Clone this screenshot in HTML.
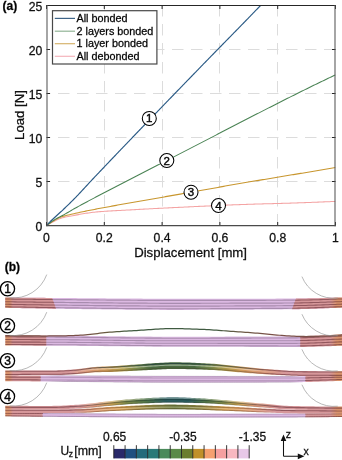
<!DOCTYPE html>
<html><head><meta charset="utf-8"><style>
html,body{margin:0;padding:0;background:#fff;overflow:hidden;width:342px;height:460px;}
svg{display:block;font-family:"Liberation Sans",sans-serif;will-change:transform;}
text{stroke:#111;stroke-width:0.28px;}
</style></head><body>
<svg width="342" height="460" viewBox="0 0 342 460">
<defs><clipPath id="plotclip"><rect x="46.5" y="5.5" width="289" height="220"/></clipPath></defs>
<text x="2.5" y="9.8" font-size="12" font-weight="bold" fill="#000">(a)</text>
<g stroke="#dcdcdc" stroke-width="1" stroke-dasharray="11.5 7.5"><line x1="104.50" y1="225.5" x2="104.50" y2="5.5"/><line x1="162.50" y1="225.5" x2="162.50" y2="5.5"/><line x1="219.50" y1="225.5" x2="219.50" y2="5.5"/><line x1="277.50" y1="225.5" x2="277.50" y2="5.5"/><line x1="335.5" y1="181.50" x2="46.5" y2="181.50"/><line x1="335.5" y1="137.50" x2="46.5" y2="137.50"/><line x1="335.5" y1="93.50" x2="46.5" y2="93.50"/><line x1="335.5" y1="49.50" x2="46.5" y2="49.50"/></g>
<g clip-path="url(#plotclip)" fill="none" stroke-width="1.05">
<polyline stroke="#f4a3a3" points="46.50,225.50 47.95,224.63 49.40,223.80 50.86,222.98 52.31,222.18 53.76,221.42 55.21,220.70 56.67,219.97 58.12,219.27 59.57,218.66 61.02,218.17 62.47,217.76 63.93,217.39 65.38,217.05 66.83,216.74 68.28,216.45 69.74,216.17 71.19,215.91 72.64,215.65 74.09,215.40 75.55,215.14 77.00,214.88 78.45,214.61 79.90,214.35 81.35,214.09 82.81,213.84 84.26,213.59 85.71,213.35 87.16,213.12 88.62,212.90 90.07,212.69 91.52,212.50 92.97,212.32 94.42,212.16 95.88,212.01 97.33,211.88 98.78,211.76 100.23,211.64 101.69,211.53 103.14,211.42 104.59,211.32 106.04,211.22 107.49,211.13 108.95,211.04 110.40,210.95 111.85,210.86 113.30,210.78 114.76,210.70 116.21,210.63 117.66,210.55 119.11,210.47 120.57,210.40 122.02,210.32 123.47,210.25 124.92,210.17 126.37,210.10 127.83,210.02 129.28,209.94 130.73,209.86 132.18,209.78 133.64,209.70 135.09,209.62 136.54,209.54 137.99,209.46 139.44,209.38 140.90,209.30 142.35,209.22 143.80,209.14 145.25,209.07 146.71,208.99 148.16,208.91 149.61,208.83 151.06,208.76 152.52,208.68 153.97,208.60 155.42,208.53 156.87,208.45 158.32,208.38 159.78,208.30 161.23,208.23 162.68,208.16 164.13,208.08 165.59,208.01 167.04,207.93 168.49,207.86 169.94,207.79 171.39,207.72 172.85,207.64 174.30,207.57 175.75,207.50 177.20,207.43 178.66,207.36 180.11,207.29 181.56,207.22 183.01,207.15 184.46,207.08 185.92,207.01 187.37,206.94 188.82,206.87 190.27,206.80 191.73,206.73 193.18,206.66 194.63,206.59 196.08,206.52 197.54,206.46 198.99,206.39 200.44,206.32 201.89,206.25 203.34,206.19 204.80,206.12 206.25,206.05 207.70,205.99 209.15,205.92 210.61,205.86 212.06,205.79 213.51,205.72 214.96,205.66 216.41,205.59 217.87,205.53 219.32,205.46 220.77,205.40 222.22,205.33 223.68,205.27 225.13,205.21 226.58,205.14 228.03,205.08 229.48,205.02 230.94,204.96 232.39,204.89 233.84,204.84 235.29,204.78 236.75,204.72 238.20,204.67 239.65,204.61 241.10,204.56 242.56,204.51 244.01,204.46 245.46,204.41 246.91,204.36 248.36,204.32 249.82,204.27 251.27,204.23 252.72,204.18 254.17,204.14 255.63,204.09 257.08,204.05 258.53,204.01 259.98,203.97 261.43,203.93 262.89,203.89 264.34,203.85 265.79,203.81 267.24,203.77 268.70,203.73 270.15,203.69 271.60,203.65 273.05,203.61 274.51,203.57 275.96,203.53 277.41,203.49 278.86,203.45 280.31,203.40 281.77,203.36 283.22,203.32 284.67,203.28 286.12,203.24 287.58,203.20 289.03,203.15 290.48,203.11 291.93,203.06 293.38,203.02 294.84,202.97 296.29,202.92 297.74,202.88 299.19,202.83 300.65,202.78 302.10,202.73 303.55,202.68 305.00,202.62 306.45,202.57 307.91,202.52 309.36,202.46 310.81,202.41 312.26,202.35 313.72,202.30 315.17,202.24 316.62,202.18 318.07,202.12 319.53,202.07 320.98,202.01 322.43,201.95 323.88,201.89 325.33,201.83 326.79,201.77 328.24,201.71 329.69,201.65 331.14,201.59 332.60,201.52 334.05,201.46 335.50,201.40"/>
<polyline stroke="#c8962e" points="46.50,225.50 47.95,224.53 49.40,223.57 50.86,222.59 52.31,221.64 53.76,220.72 55.21,219.88 56.67,219.07 58.12,218.30 59.57,217.61 61.02,217.05 62.47,216.57 63.93,216.12 65.38,215.71 66.83,215.33 68.28,214.98 69.74,214.64 71.19,214.31 72.64,213.98 74.09,213.65 75.55,213.32 77.00,212.99 78.45,212.66 79.90,212.35 81.35,212.04 82.81,211.73 84.26,211.43 85.71,211.13 87.16,210.84 88.62,210.55 90.07,210.26 91.52,209.97 92.97,209.69 94.42,209.41 95.88,209.12 97.33,208.84 98.78,208.56 100.23,208.29 101.69,208.01 103.14,207.74 104.59,207.47 106.04,207.20 107.49,206.93 108.95,206.67 110.40,206.40 111.85,206.14 113.30,205.88 114.76,205.62 116.21,205.36 117.66,205.10 119.11,204.84 120.57,204.58 122.02,204.32 123.47,204.06 124.92,203.81 126.37,203.55 127.83,203.29 129.28,203.03 130.73,202.77 132.18,202.51 133.64,202.25 135.09,201.99 136.54,201.73 137.99,201.48 139.44,201.22 140.90,200.96 142.35,200.71 143.80,200.45 145.25,200.20 146.71,199.94 148.16,199.69 149.61,199.43 151.06,199.18 152.52,198.92 153.97,198.67 155.42,198.42 156.87,198.16 158.32,197.91 159.78,197.66 161.23,197.40 162.68,197.15 164.13,196.90 165.59,196.64 167.04,196.39 168.49,196.14 169.94,195.89 171.39,195.63 172.85,195.38 174.30,195.13 175.75,194.87 177.20,194.62 178.66,194.37 180.11,194.11 181.56,193.86 183.01,193.60 184.46,193.35 185.92,193.09 187.37,192.84 188.82,192.58 190.27,192.33 191.73,192.07 193.18,191.81 194.63,191.56 196.08,191.30 197.54,191.04 198.99,190.78 200.44,190.52 201.89,190.26 203.34,190.00 204.80,189.74 206.25,189.48 207.70,189.22 209.15,188.96 210.61,188.70 212.06,188.44 213.51,188.18 214.96,187.92 216.41,187.66 217.87,187.40 219.32,187.14 220.77,186.88 222.22,186.62 223.68,186.36 225.13,186.10 226.58,185.85 228.03,185.59 229.48,185.33 230.94,185.08 232.39,184.82 233.84,184.57 235.29,184.32 236.75,184.06 238.20,183.81 239.65,183.56 241.10,183.31 242.56,183.06 244.01,182.81 245.46,182.57 246.91,182.32 248.36,182.07 249.82,181.83 251.27,181.58 252.72,181.34 254.17,181.10 255.63,180.85 257.08,180.61 258.53,180.37 259.98,180.13 261.43,179.89 262.89,179.64 264.34,179.40 265.79,179.16 267.24,178.92 268.70,178.68 270.15,178.44 271.60,178.20 273.05,177.97 274.51,177.73 275.96,177.49 277.41,177.25 278.86,177.01 280.31,176.77 281.77,176.53 283.22,176.29 284.67,176.05 286.12,175.81 287.58,175.57 289.03,175.33 290.48,175.09 291.93,174.85 293.38,174.61 294.84,174.36 296.29,174.12 297.74,173.88 299.19,173.64 300.65,173.39 302.10,173.15 303.55,172.90 305.00,172.66 306.45,172.41 307.91,172.17 309.36,171.93 310.81,171.68 312.26,171.44 313.72,171.19 315.17,170.94 316.62,170.70 318.07,170.45 319.53,170.21 320.98,169.96 322.43,169.72 323.88,169.47 325.33,169.22 326.79,168.98 328.24,168.73 329.69,168.49 331.14,168.24 332.60,167.99 334.05,167.75 335.50,167.50"/>
<polyline stroke="#4a8354" stroke-width="1.05" points="46.50,225.50 47.95,224.34 49.40,223.25 50.86,222.20 52.31,221.18 53.76,220.23 55.21,219.33 56.67,218.49 58.12,217.71 59.57,216.95 61.02,216.20 62.47,215.45 63.93,214.69 65.38,213.89 66.83,213.06 68.28,212.21 69.74,211.36 71.19,210.50 72.64,209.65 74.09,208.81 75.55,208.00 77.00,207.19 78.45,206.39 79.90,205.59 81.35,204.80 82.81,204.01 84.26,203.23 85.71,202.45 87.16,201.68 88.62,200.90 90.07,200.13 91.52,199.37 92.97,198.60 94.42,197.84 95.88,197.08 97.33,196.32 98.78,195.56 100.23,194.80 101.69,194.04 103.14,193.28 104.59,192.51 106.04,191.75 107.49,190.99 108.95,190.23 110.40,189.47 111.85,188.72 113.30,187.96 114.76,187.21 116.21,186.45 117.66,185.70 119.11,184.95 120.57,184.20 122.02,183.45 123.47,182.70 124.92,181.95 126.37,181.20 127.83,180.45 129.28,179.71 130.73,178.96 132.18,178.22 133.64,177.47 135.09,176.73 136.54,175.98 137.99,175.24 139.44,174.50 140.90,173.75 142.35,173.01 143.80,172.27 145.25,171.52 146.71,170.78 148.16,170.04 149.61,169.30 151.06,168.56 152.52,167.81 153.97,167.07 155.42,166.33 156.87,165.59 158.32,164.84 159.78,164.10 161.23,163.36 162.68,162.61 164.13,161.87 165.59,161.12 167.04,160.38 168.49,159.63 169.94,158.89 171.39,158.14 172.85,157.39 174.30,156.64 175.75,155.90 177.20,155.15 178.66,154.40 180.11,153.65 181.56,152.90 183.01,152.15 184.46,151.40 185.92,150.65 187.37,149.90 188.82,149.15 190.27,148.40 191.73,147.65 193.18,146.89 194.63,146.14 196.08,145.39 197.54,144.64 198.99,143.89 200.44,143.13 201.89,142.38 203.34,141.63 204.80,140.87 206.25,140.12 207.70,139.37 209.15,138.61 210.61,137.86 212.06,137.11 213.51,136.35 214.96,135.60 216.41,134.85 217.87,134.09 219.32,133.34 220.77,132.59 222.22,131.84 223.68,131.08 225.13,130.33 226.58,129.58 228.03,128.83 229.48,128.07 230.94,127.32 232.39,126.57 233.84,125.82 235.29,125.07 236.75,124.32 238.20,123.57 239.65,122.82 241.10,122.07 242.56,121.32 244.01,120.57 245.46,119.82 246.91,119.07 248.36,118.32 249.82,117.57 251.27,116.83 252.72,116.08 254.17,115.33 255.63,114.59 257.08,113.84 258.53,113.10 259.98,112.35 261.43,111.61 262.89,110.86 264.34,110.12 265.79,109.38 267.24,108.64 268.70,107.90 270.15,107.16 271.60,106.42 273.05,105.68 274.51,104.94 275.96,104.20 277.41,103.46 278.86,102.73 280.31,101.99 281.77,101.26 283.22,100.53 284.67,99.79 286.12,99.06 287.58,98.33 289.03,97.60 290.48,96.87 291.93,96.14 293.38,95.41 294.84,94.69 296.29,93.96 297.74,93.24 299.19,92.51 300.65,91.79 302.10,91.07 303.55,90.35 305.00,89.63 306.45,88.91 307.91,88.19 309.36,87.47 310.81,86.76 312.26,86.04 313.72,85.33 315.17,84.62 316.62,83.91 318.07,83.20 319.53,82.50 320.98,81.80 322.43,81.11 323.88,80.41 325.33,79.72 326.79,79.03 328.24,78.34 329.69,77.65 331.14,76.96 332.60,76.28 334.05,75.59 335.50,74.90"/>
<polyline stroke="#2a5a85" stroke-width="1.15" points="46.50,225.50 47.58,224.30 48.67,223.19 49.75,222.10 50.83,221.03 51.91,219.99 53.00,218.97 54.08,217.96 55.16,216.97 56.25,215.98 57.33,215.00 58.41,214.02 59.49,213.04 60.58,212.05 61.66,211.06 62.74,210.06 63.83,209.04 64.91,208.00 65.99,206.96 67.08,205.92 68.16,204.87 69.24,203.82 70.32,202.76 71.41,201.70 72.49,200.61 73.57,199.52 74.66,198.41 75.74,197.30 76.82,196.17 77.90,195.03 78.99,193.89 80.07,192.74 81.15,191.58 82.24,190.42 83.32,189.25 84.40,188.09 85.48,186.91 86.57,185.74 87.65,184.57 88.73,183.40 89.82,182.23 90.90,181.07 91.98,179.91 93.07,178.75 94.15,177.60 95.23,176.46 96.31,175.32 97.40,174.17 98.48,173.03 99.56,171.89 100.65,170.76 101.73,169.62 102.81,168.48 103.89,167.34 104.98,166.20 106.06,165.07 107.14,163.93 108.23,162.79 109.31,161.66 110.39,160.52 111.47,159.39 112.56,158.25 113.64,157.12 114.72,155.99 115.81,154.85 116.89,153.72 117.97,152.59 119.06,151.45 120.14,150.32 121.22,149.19 122.30,148.06 123.39,146.93 124.47,145.80 125.55,144.67 126.64,143.54 127.72,142.41 128.80,141.28 129.88,140.15 130.97,139.03 132.05,137.90 133.13,136.77 134.22,135.64 135.30,134.52 136.38,133.39 137.46,132.26 138.55,131.14 139.63,130.01 140.71,128.89 141.80,127.76 142.88,126.64 143.96,125.51 145.05,124.39 146.13,123.27 147.21,122.14 148.29,121.02 149.38,119.90 150.46,118.77 151.54,117.65 152.63,116.53 153.71,115.41 154.79,114.28 155.87,113.16 156.96,112.04 158.04,110.92 159.12,109.80 160.21,108.68 161.29,107.56 162.37,106.44 163.45,105.32 164.54,104.20 165.62,103.08 166.70,101.96 167.79,100.84 168.87,99.72 169.95,98.60 171.04,97.48 172.12,96.36 173.20,95.24 174.28,94.12 175.37,93.01 176.45,91.89 177.53,90.77 178.62,89.65 179.70,88.53 180.78,87.42 181.86,86.30 182.95,85.18 184.03,84.07 185.11,82.95 186.20,81.83 187.28,80.71 188.36,79.60 189.44,78.48 190.53,77.36 191.61,76.25 192.69,75.13 193.78,74.01 194.86,72.90 195.94,71.78 197.03,70.67 198.11,69.55 199.19,68.43 200.27,67.32 201.36,66.20 202.44,65.09 203.52,63.97 204.61,62.86 205.69,61.75 206.77,60.64 207.85,59.53 208.94,58.42 210.02,57.31 211.10,56.20 212.19,55.09 213.27,53.98 214.35,52.87 215.43,51.76 216.52,50.66 217.60,49.55 218.68,48.44 219.77,47.34 220.85,46.23 221.93,45.13 223.02,44.02 224.10,42.91 225.18,41.81 226.26,40.70 227.35,39.60 228.43,38.49 229.51,37.39 230.60,36.28 231.68,35.17 232.76,34.07 233.84,32.96 234.93,31.85 236.01,30.75 237.09,29.64 238.18,28.53 239.26,27.42 240.34,26.32 241.42,25.21 242.51,24.10 243.59,22.99 244.67,21.87 245.76,20.76 246.84,19.65 247.92,18.54 249.01,17.42 250.09,16.31 251.17,15.19 252.25,14.08 253.34,12.96 254.42,11.84 255.50,10.72 256.59,9.60 257.67,8.48 258.75,7.36 259.83,6.24 260.92,5.12 262.00,4.00"/>
</g>
<circle cx="149.3" cy="118.4" r="7" fill="#fff" stroke="#000" stroke-width="1.05"/><text x="149.3" y="122.4" text-anchor="middle" font-size="11.5" style="stroke-width:0.45px">1</text><circle cx="166.8" cy="160.5" r="7" fill="#fff" stroke="#000" stroke-width="1.05"/><text x="166.8" y="164.5" text-anchor="middle" font-size="11.5" style="stroke-width:0.45px">2</text><circle cx="191" cy="192.2" r="7" fill="#fff" stroke="#000" stroke-width="1.05"/><text x="191" y="196.2" text-anchor="middle" font-size="11.5" style="stroke-width:0.45px">3</text><circle cx="218.5" cy="205.5" r="7" fill="#fff" stroke="#000" stroke-width="1.05"/><text x="218.5" y="209.5" text-anchor="middle" font-size="11.5" style="stroke-width:0.45px">4</text>
<g stroke="#262626" stroke-width="1"><line x1="46.50" y1="225.5" x2="46.50" y2="222"/><line x1="46.50" y1="5.5" x2="46.50" y2="9"/><line x1="46.5" y1="225.50" x2="50" y2="225.50"/><line x1="335.5" y1="225.50" x2="332" y2="225.50"/><line x1="104.30" y1="225.5" x2="104.30" y2="222"/><line x1="104.30" y1="5.5" x2="104.30" y2="9"/><line x1="46.5" y1="181.50" x2="50" y2="181.50"/><line x1="335.5" y1="181.50" x2="332" y2="181.50"/><line x1="162.10" y1="225.5" x2="162.10" y2="222"/><line x1="162.10" y1="5.5" x2="162.10" y2="9"/><line x1="46.5" y1="137.50" x2="50" y2="137.50"/><line x1="335.5" y1="137.50" x2="332" y2="137.50"/><line x1="219.90" y1="225.5" x2="219.90" y2="222"/><line x1="219.90" y1="5.5" x2="219.90" y2="9"/><line x1="46.5" y1="93.50" x2="50" y2="93.50"/><line x1="335.5" y1="93.50" x2="332" y2="93.50"/><line x1="277.70" y1="225.5" x2="277.70" y2="222"/><line x1="277.70" y1="5.5" x2="277.70" y2="9"/><line x1="46.5" y1="49.50" x2="50" y2="49.50"/><line x1="335.5" y1="49.50" x2="332" y2="49.50"/><line x1="335.50" y1="225.5" x2="335.50" y2="222"/><line x1="335.50" y1="5.5" x2="335.50" y2="9"/><line x1="46.5" y1="5.50" x2="50" y2="5.50"/><line x1="335.5" y1="5.50" x2="332" y2="5.50"/></g>
<g stroke="#262626"><line x1="46" y1="5.5" x2="336" y2="5.5" stroke-width="1.1"/><line x1="46" y1="225.7" x2="336" y2="225.7" stroke-width="1.3" stroke="#4a4a4a"/><line x1="47" y1="5" x2="47" y2="226.3" stroke-width="1.05" stroke="#555"/><line x1="335" y1="5" x2="335" y2="226.3" stroke-width="1.05" stroke="#555"/></g>
<rect x="52.5" y="10.7" width="104.4" height="53.3" fill="#fff" stroke="#484848" stroke-width="1.2"/>
<g stroke-width="1.2">
<line x1="54.8" y1="18.4" x2="75" y2="18.4" stroke="#3e6488"/>
<line x1="54.8" y1="31.2" x2="75" y2="31.2" stroke="#92b496"/>
<line x1="54.8" y1="43.7" x2="75" y2="43.7" stroke="#d6b46e"/>
<line x1="54.8" y1="56.3" x2="75" y2="56.3" stroke="#f4b4bc"/>
</g>
<g font-size="10.8" fill="#000">
<text x="76.5" y="22">All bonded</text>
<text x="76.5" y="34.6">2 layers bonded</text>
<text x="76.5" y="47.1">1 layer bonded</text>
<text x="76.5" y="59.7">All debonded</text>
</g>
<g font-size="12.2" fill="#111"><text x="42.3" y="230.80" text-anchor="end">0</text><text x="42.3" y="186.80" text-anchor="end">5</text><text x="42.3" y="142.80" text-anchor="end">10</text><text x="42.3" y="98.80" text-anchor="end">15</text><text x="42.3" y="54.80" text-anchor="end">20</text><text x="42.3" y="10.80" text-anchor="end">25</text><text x="46.50" y="241.8" text-anchor="middle">0</text><text x="104.30" y="241.8" text-anchor="middle">0.2</text><text x="162.10" y="241.8" text-anchor="middle">0.4</text><text x="219.90" y="241.8" text-anchor="middle">0.6</text><text x="277.70" y="241.8" text-anchor="middle">0.8</text><text x="335.50" y="241.8" text-anchor="middle">1</text></g>
<text x="190.6" y="257" font-size="13.2" text-anchor="middle" fill="#111">Displacement [mm]</text>
<text transform="translate(24.2,115) rotate(-90)" font-size="13.2" text-anchor="middle" fill="#111">Load [N]</text>
<text x="4.8" y="271.2" font-size="12" font-weight="bold" fill="#000">(b)</text>
<defs><linearGradient id="g1" gradientUnits="userSpaceOnUse" x1="0" y1="0" x2="342" y2="0"><stop offset="0.0000" stop-color="#d9936c"/><stop offset="0.0263" stop-color="#d9936c"/><stop offset="0.0380" stop-color="#d6979a"/><stop offset="0.9649" stop-color="#d6979a"/><stop offset="0.9854" stop-color="#d9936c"/><stop offset="1.0000" stop-color="#d9936c"/></linearGradient><linearGradient id="g2" gradientUnits="userSpaceOnUse" x1="0" y1="0" x2="342" y2="0"><stop offset="0.0000" stop-color="#d9936c"/><stop offset="0.0263" stop-color="#d9936c"/><stop offset="0.0380" stop-color="#d6979a"/><stop offset="0.1330" stop-color="#d6979a"/><stop offset="0.1374" stop-color="#dcb9e2"/><stop offset="0.8757" stop-color="#dcb9e2"/><stop offset="0.8801" stop-color="#d6979a"/><stop offset="0.9649" stop-color="#d6979a"/><stop offset="0.9854" stop-color="#d9936c"/><stop offset="1.0000" stop-color="#d9936c"/></linearGradient><linearGradient id="g3" gradientUnits="userSpaceOnUse" x1="0" y1="0" x2="342" y2="0"><stop offset="0.0000" stop-color="rgba(80,25,35,0.5)"/><stop offset="0.1330" stop-color="rgba(80,25,35,0.5)"/><stop offset="0.1360" stop-color="rgba(50,35,55,0.3)"/><stop offset="0.8757" stop-color="rgba(50,35,55,0.3)"/><stop offset="0.8787" stop-color="rgba(80,25,35,0.5)"/><stop offset="1.0000" stop-color="rgba(80,25,35,0.5)"/></linearGradient><linearGradient id="g4" gradientUnits="userSpaceOnUse" x1="0" y1="0" x2="342" y2="0"><stop offset="0.0000" stop-color="rgba(80,25,35,0.5)"/><stop offset="0.1330" stop-color="rgba(80,25,35,0.5)"/><stop offset="0.1360" stop-color="rgba(50,35,55,0.3)"/><stop offset="0.8757" stop-color="rgba(50,35,55,0.3)"/><stop offset="0.8787" stop-color="rgba(80,25,35,0.5)"/><stop offset="1.0000" stop-color="rgba(80,25,35,0.5)"/></linearGradient><linearGradient id="g5" gradientUnits="userSpaceOnUse" x1="0" y1="0" x2="342" y2="0"><stop offset="0.0000" stop-color="rgba(80,25,35,0.5)"/><stop offset="0.1330" stop-color="rgba(80,25,35,0.5)"/><stop offset="0.1360" stop-color="rgba(50,35,55,0.3)"/><stop offset="0.8757" stop-color="rgba(50,35,55,0.3)"/><stop offset="0.8787" stop-color="rgba(80,25,35,0.5)"/><stop offset="1.0000" stop-color="rgba(80,25,35,0.5)"/></linearGradient><linearGradient id="g6" gradientUnits="userSpaceOnUse" x1="0" y1="0" x2="342" y2="0"><stop offset="0.0000" stop-color="rgba(80,25,35,0.5)"/><stop offset="0.1330" stop-color="rgba(80,25,35,0.5)"/><stop offset="0.1360" stop-color="rgba(50,35,55,0.3)"/><stop offset="0.8757" stop-color="rgba(50,35,55,0.3)"/><stop offset="0.8787" stop-color="rgba(80,25,35,0.5)"/><stop offset="1.0000" stop-color="rgba(80,25,35,0.5)"/></linearGradient><linearGradient id="g7" gradientUnits="userSpaceOnUse" x1="0" y1="0" x2="342" y2="0"><stop offset="0.0000" stop-color="#7a5048"/><stop offset="0.2339" stop-color="#7a5048"/><stop offset="0.3070" stop-color="#6a5a40"/><stop offset="0.3801" stop-color="#3f5a40"/><stop offset="0.6287" stop-color="#3f5a40"/><stop offset="0.7018" stop-color="#6a5a45"/><stop offset="0.7895" stop-color="#7a5048"/><stop offset="1.0000" stop-color="#7a5048"/></linearGradient><linearGradient id="g8" gradientUnits="userSpaceOnUse" x1="0" y1="0" x2="342" y2="0"><stop offset="0.0000" stop-color="#d9936c"/><stop offset="0.0263" stop-color="#d9936c"/><stop offset="0.0380" stop-color="#d6979a"/><stop offset="0.1155" stop-color="#d6979a"/><stop offset="0.1213" stop-color="#dcb9e2"/><stop offset="0.8904" stop-color="#dcb9e2"/><stop offset="0.8962" stop-color="#d6979a"/><stop offset="0.9649" stop-color="#d6979a"/><stop offset="0.9854" stop-color="#d9936c"/><stop offset="1.0000" stop-color="#d9936c"/></linearGradient><linearGradient id="g9" gradientUnits="userSpaceOnUse" x1="0" y1="0" x2="342" y2="0"><stop offset="0.0000" stop-color="rgba(80,25,35,0.5)"/><stop offset="0.1184" stop-color="rgba(80,25,35,0.5)"/><stop offset="0.1213" stop-color="rgba(50,35,55,0.22)"/><stop offset="0.8904" stop-color="rgba(50,35,55,0.22)"/><stop offset="0.8933" stop-color="rgba(80,25,35,0.5)"/><stop offset="1.0000" stop-color="rgba(80,25,35,0.5)"/></linearGradient><linearGradient id="g10" gradientUnits="userSpaceOnUse" x1="0" y1="0" x2="342" y2="0"><stop offset="0.0000" stop-color="rgba(80,25,35,0.5)"/><stop offset="0.1184" stop-color="rgba(80,25,35,0.5)"/><stop offset="0.1213" stop-color="rgba(50,35,55,0.26)"/><stop offset="0.8904" stop-color="rgba(50,35,55,0.26)"/><stop offset="0.8933" stop-color="rgba(80,25,35,0.5)"/><stop offset="1.0000" stop-color="rgba(80,25,35,0.5)"/></linearGradient><linearGradient id="g11" gradientUnits="userSpaceOnUse" x1="0" y1="0" x2="342" y2="0"><stop offset="0.0000" stop-color="rgba(0,0,0,0)"/><stop offset="0.1316" stop-color="rgba(0,0,0,0)"/><stop offset="0.1754" stop-color="rgba(50,35,55,0.2)"/><stop offset="0.8480" stop-color="rgba(50,35,55,0.2)"/><stop offset="0.8772" stop-color="rgba(0,0,0,0)"/><stop offset="1.0000" stop-color="rgba(0,0,0,0)"/></linearGradient><linearGradient id="g12" gradientUnits="userSpaceOnUse" x1="0" y1="0" x2="342" y2="0"><stop offset="0.0000" stop-color="rgba(0,0,0,0)"/><stop offset="0.1316" stop-color="rgba(0,0,0,0)"/><stop offset="0.1754" stop-color="rgba(50,35,55,0.25)"/><stop offset="0.8480" stop-color="rgba(50,35,55,0.25)"/><stop offset="0.8772" stop-color="rgba(0,0,0,0)"/><stop offset="1.0000" stop-color="rgba(0,0,0,0)"/></linearGradient><linearGradient id="g13" gradientUnits="userSpaceOnUse" x1="0" y1="0" x2="342" y2="0"><stop offset="0.0000" stop-color="#d9936c"/><stop offset="0.0263" stop-color="#d9936c"/><stop offset="0.0380" stop-color="#d6979a"/><stop offset="0.2047" stop-color="#d6979a"/><stop offset="0.2573" stop-color="#dc9a78"/><stop offset="0.3070" stop-color="#d09a58"/><stop offset="0.3567" stop-color="#b09a48"/><stop offset="0.4035" stop-color="#74884a"/><stop offset="0.4444" stop-color="#4a6c40"/><stop offset="0.5702" stop-color="#4a6c40"/><stop offset="0.6140" stop-color="#74884a"/><stop offset="0.6608" stop-color="#b09a48"/><stop offset="0.7076" stop-color="#d09a58"/><stop offset="0.7661" stop-color="#dc9a78"/><stop offset="0.8333" stop-color="#d6979a"/><stop offset="0.9649" stop-color="#d6979a"/><stop offset="0.9854" stop-color="#d9936c"/><stop offset="1.0000" stop-color="#d9936c"/></linearGradient><linearGradient id="g14" gradientUnits="userSpaceOnUse" x1="0" y1="0" x2="342" y2="0"><stop offset="0.0000" stop-color="rgba(80,25,35,0.5)"/><stop offset="0.2047" stop-color="rgba(80,25,35,0.5)"/><stop offset="0.2924" stop-color="rgba(20,45,60,0.55)"/><stop offset="0.7164" stop-color="rgba(20,45,60,0.55)"/><stop offset="0.8041" stop-color="rgba(80,25,35,0.5)"/><stop offset="1.0000" stop-color="rgba(80,25,35,0.5)"/></linearGradient><linearGradient id="g15" gradientUnits="userSpaceOnUse" x1="0" y1="0" x2="342" y2="0"><stop offset="0.0000" stop-color="rgba(80,25,35,0.5)"/><stop offset="0.2047" stop-color="rgba(80,25,35,0.5)"/><stop offset="0.2924" stop-color="rgba(60,40,30,0.35)"/><stop offset="0.7164" stop-color="rgba(60,40,30,0.35)"/><stop offset="0.8041" stop-color="rgba(80,25,35,0.5)"/><stop offset="1.0000" stop-color="rgba(80,25,35,0.5)"/></linearGradient><linearGradient id="g16" gradientUnits="userSpaceOnUse" x1="0" y1="0" x2="342" y2="0"><stop offset="0.0000" stop-color="rgba(255,255,255,0)"/><stop offset="0.2047" stop-color="rgba(255,255,255,0)"/><stop offset="0.2924" stop-color="rgba(255,255,255,0.45)"/><stop offset="0.7164" stop-color="rgba(255,255,255,0.45)"/><stop offset="0.8041" stop-color="rgba(255,255,255,0)"/><stop offset="1.0000" stop-color="rgba(255,255,255,0)"/></linearGradient><linearGradient id="g17" gradientUnits="userSpaceOnUse" x1="0" y1="0" x2="342" y2="0"><stop offset="0.0000" stop-color="#d9936c"/><stop offset="0.0263" stop-color="#d9936c"/><stop offset="0.0380" stop-color="#d6979a"/><stop offset="0.1213" stop-color="#d6979a"/><stop offset="0.1272" stop-color="#dcb9e2"/><stop offset="0.8904" stop-color="#dcb9e2"/><stop offset="0.8962" stop-color="#d6979a"/><stop offset="0.9649" stop-color="#d6979a"/><stop offset="0.9854" stop-color="#d9936c"/><stop offset="1.0000" stop-color="#d9936c"/></linearGradient><linearGradient id="g18" gradientUnits="userSpaceOnUse" x1="0" y1="0" x2="342" y2="0"><stop offset="0.0000" stop-color="rgba(80,25,35,0.5)"/><stop offset="0.1243" stop-color="rgba(80,25,35,0.5)"/><stop offset="0.1272" stop-color="rgba(50,35,55,0.22)"/><stop offset="0.8904" stop-color="rgba(50,35,55,0.22)"/><stop offset="0.8933" stop-color="rgba(80,25,35,0.5)"/><stop offset="1.0000" stop-color="rgba(80,25,35,0.5)"/></linearGradient><linearGradient id="g19" gradientUnits="userSpaceOnUse" x1="0" y1="0" x2="342" y2="0"><stop offset="0.0000" stop-color="rgba(80,25,35,0.5)"/><stop offset="0.1243" stop-color="rgba(80,25,35,0.5)"/><stop offset="0.1272" stop-color="rgba(50,35,55,0.3)"/><stop offset="0.8904" stop-color="rgba(50,35,55,0.3)"/><stop offset="0.8933" stop-color="rgba(80,25,35,0.5)"/><stop offset="1.0000" stop-color="rgba(80,25,35,0.5)"/></linearGradient><linearGradient id="g20" gradientUnits="userSpaceOnUse" x1="0" y1="0" x2="342" y2="0"><stop offset="0.0000" stop-color="#d9936c"/><stop offset="0.0263" stop-color="#d9936c"/><stop offset="0.0380" stop-color="#d6979a"/><stop offset="0.2105" stop-color="#d6979a"/><stop offset="0.2778" stop-color="#e09a70"/><stop offset="0.3567" stop-color="#d8a050"/><stop offset="0.4386" stop-color="#948c44"/><stop offset="0.5117" stop-color="#6c7c3a"/><stop offset="0.5848" stop-color="#948c44"/><stop offset="0.6579" stop-color="#d8a050"/><stop offset="0.7310" stop-color="#e09a70"/><stop offset="0.8041" stop-color="#d6979a"/><stop offset="0.9649" stop-color="#d6979a"/><stop offset="0.9854" stop-color="#d9936c"/><stop offset="1.0000" stop-color="#d9936c"/></linearGradient><linearGradient id="g21" gradientUnits="userSpaceOnUse" x1="0" y1="0" x2="342" y2="0"><stop offset="0.0000" stop-color="rgba(80,25,35,0.5)"/><stop offset="0.2047" stop-color="rgba(80,25,35,0.5)"/><stop offset="0.2924" stop-color="rgba(60,40,30,0.3)"/><stop offset="0.7164" stop-color="rgba(60,40,30,0.3)"/><stop offset="0.8041" stop-color="rgba(80,25,35,0.5)"/><stop offset="1.0000" stop-color="rgba(80,25,35,0.5)"/></linearGradient><linearGradient id="g22" gradientUnits="userSpaceOnUse" x1="0" y1="0" x2="342" y2="0"><stop offset="0.0000" stop-color="rgba(0,0,0,0)"/><stop offset="0.2047" stop-color="rgba(0,0,0,0)"/><stop offset="0.2924" stop-color="rgba(60,40,30,0.35)"/><stop offset="0.7164" stop-color="rgba(60,40,30,0.35)"/><stop offset="0.8041" stop-color="rgba(0,0,0,0)"/><stop offset="1.0000" stop-color="rgba(0,0,0,0)"/></linearGradient><linearGradient id="g23" gradientUnits="userSpaceOnUse" x1="0" y1="0" x2="342" y2="0"><stop offset="0.0000" stop-color="rgba(255,255,255,0)"/><stop offset="0.2047" stop-color="rgba(255,255,255,0)"/><stop offset="0.2924" stop-color="rgba(255,255,255,0.3)"/><stop offset="0.7164" stop-color="rgba(255,255,255,0.3)"/><stop offset="0.8041" stop-color="rgba(255,255,255,0)"/><stop offset="1.0000" stop-color="rgba(255,255,255,0)"/></linearGradient><linearGradient id="g24" gradientUnits="userSpaceOnUse" x1="0" y1="0" x2="342" y2="0"><stop offset="0.0000" stop-color="#d9936c"/><stop offset="0.0263" stop-color="#d9936c"/><stop offset="0.0380" stop-color="#d6979a"/><stop offset="0.2281" stop-color="#d6979a"/><stop offset="0.2836" stop-color="#dc9878"/><stop offset="0.3275" stop-color="#c8a050"/><stop offset="0.3684" stop-color="#7f8a48"/><stop offset="0.4269" stop-color="#4f7448"/><stop offset="0.4854" stop-color="#2a5c5e"/><stop offset="0.5497" stop-color="#2a5c5e"/><stop offset="0.5994" stop-color="#4f7448"/><stop offset="0.6491" stop-color="#7f8a48"/><stop offset="0.6959" stop-color="#c8a050"/><stop offset="0.7456" stop-color="#dc9878"/><stop offset="0.8129" stop-color="#d6979a"/><stop offset="0.9649" stop-color="#d6979a"/><stop offset="0.9854" stop-color="#d9936c"/><stop offset="1.0000" stop-color="#d9936c"/></linearGradient><linearGradient id="g25" gradientUnits="userSpaceOnUse" x1="0" y1="0" x2="342" y2="0"><stop offset="0.0000" stop-color="rgba(80,25,35,0.5)"/><stop offset="0.2047" stop-color="rgba(80,25,35,0.5)"/><stop offset="0.2924" stop-color="rgba(20,40,40,0.38)"/><stop offset="0.7164" stop-color="rgba(20,40,40,0.38)"/><stop offset="0.8041" stop-color="rgba(80,25,35,0.5)"/><stop offset="1.0000" stop-color="rgba(80,25,35,0.5)"/></linearGradient><linearGradient id="g26" gradientUnits="userSpaceOnUse" x1="0" y1="0" x2="342" y2="0"><stop offset="0.0000" stop-color="rgba(0,0,0,0)"/><stop offset="0.2047" stop-color="rgba(0,0,0,0)"/><stop offset="0.2924" stop-color="rgba(40,40,30,0.3)"/><stop offset="0.7164" stop-color="rgba(40,40,30,0.3)"/><stop offset="0.8041" stop-color="rgba(0,0,0,0)"/><stop offset="1.0000" stop-color="rgba(0,0,0,0)"/></linearGradient><linearGradient id="g27" gradientUnits="userSpaceOnUse" x1="0" y1="0" x2="342" y2="0"><stop offset="0.0000" stop-color="rgba(255,255,255,0)"/><stop offset="0.2047" stop-color="rgba(255,255,255,0)"/><stop offset="0.2924" stop-color="rgba(255,255,255,0.35)"/><stop offset="0.7164" stop-color="rgba(255,255,255,0.35)"/><stop offset="0.8041" stop-color="rgba(255,255,255,0)"/><stop offset="1.0000" stop-color="rgba(255,255,255,0)"/></linearGradient></defs><path d="M5.30,297.50 L7.73,297.52 L10.15,297.55 L12.58,297.57 L15.00,297.60 L17.43,297.62 L19.86,297.65 L22.28,297.67 L24.71,297.69 L27.13,297.72 L29.56,297.74 L31.98,297.76 L34.41,297.78 L36.84,297.81 L39.26,297.83 L41.69,297.85 L44.11,297.87 L46.54,297.89 L48.97,297.91 L51.39,297.93 L53.82,297.95 L56.24,297.97 L58.67,297.99 L61.10,298.01 L63.52,298.03 L65.95,298.05 L68.37,298.07 L70.80,298.08 L73.23,298.10 L75.65,298.12 L78.08,298.14 L80.50,298.16 L82.93,298.18 L85.35,298.21 L87.78,298.23 L90.21,298.25 L92.63,298.27 L95.06,298.29 L97.48,298.31 L99.91,298.33 L102.34,298.35 L104.76,298.37 L107.19,298.39 L109.61,298.40 L112.04,298.42 L114.47,298.44 L116.89,298.46 L119.32,298.48 L121.74,298.49 L124.17,298.51 L126.59,298.53 L129.02,298.54 L131.45,298.56 L133.87,298.57 L136.30,298.59 L138.72,298.60 L141.15,298.61 L143.58,298.63 L146.00,298.64 L148.43,298.65 L150.85,298.66 L153.28,298.66 L155.71,298.67 L158.13,298.68 L160.56,298.69 L162.98,298.69 L165.41,298.69 L167.84,298.70 L170.26,298.70 L172.69,298.70 L175.11,298.70 L177.54,298.70 L179.96,298.70 L182.39,298.70 L184.82,298.70 L187.24,298.70 L189.67,298.70 L192.09,298.70 L194.52,298.70 L196.95,298.70 L199.37,298.70 L201.80,298.69 L204.22,298.69 L206.65,298.69 L209.08,298.69 L211.50,298.69 L213.93,298.69 L216.35,298.69 L218.78,298.69 L221.21,298.68 L223.63,298.68 L226.06,298.68 L228.48,298.68 L230.91,298.68 L233.33,298.68 L235.76,298.67 L238.19,298.67 L240.61,298.67 L243.04,298.67 L245.46,298.66 L247.89,298.66 L250.32,298.66 L252.74,298.66 L255.17,298.65 L257.59,298.65 L260.02,298.65 L262.45,298.64 L264.87,298.64 L267.30,298.64 L269.72,298.63 L272.15,298.63 L274.57,298.63 L277.00,298.62 L279.43,298.62 L281.85,298.61 L284.28,298.61 L286.70,298.61 L289.13,298.60 L291.56,298.60 L293.98,298.58 L296.41,298.56 L298.83,298.53 L301.26,298.50 L303.69,298.46 L306.11,298.42 L308.54,298.37 L310.96,298.31 L313.39,298.26 L315.82,298.19 L318.24,298.13 L320.67,298.06 L323.09,297.99 L325.52,297.92 L327.94,297.85 L330.37,297.77 L332.80,297.70 L335.22,297.62 L337.65,297.55 L340.07,297.47 L342.50,297.40 L342.50,307.60 L340.07,307.70 L337.65,307.80 L335.22,307.90 L332.80,308.01 L330.37,308.11 L327.94,308.21 L325.52,308.31 L323.09,308.40 L320.67,308.50 L318.24,308.59 L315.82,308.68 L313.39,308.76 L310.96,308.85 L308.54,308.92 L306.11,309.00 L303.69,309.06 L301.26,309.12 L298.83,309.18 L296.41,309.23 L293.98,309.27 L291.56,309.30 L289.13,309.33 L286.70,309.35 L284.28,309.37 L281.85,309.40 L279.43,309.42 L277.00,309.44 L274.57,309.46 L272.15,309.48 L269.72,309.50 L267.30,309.52 L264.87,309.54 L262.45,309.56 L260.02,309.58 L257.59,309.60 L255.17,309.61 L252.74,309.63 L250.32,309.65 L247.89,309.66 L245.46,309.68 L243.04,309.69 L240.61,309.71 L238.19,309.72 L235.76,309.73 L233.33,309.75 L230.91,309.76 L228.48,309.77 L226.06,309.78 L223.63,309.79 L221.21,309.80 L218.78,309.81 L216.35,309.82 L213.93,309.83 L211.50,309.84 L209.08,309.84 L206.65,309.85 L204.22,309.86 L201.80,309.86 L199.37,309.87 L196.95,309.88 L194.52,309.88 L192.09,309.88 L189.67,309.89 L187.24,309.89 L184.82,309.89 L182.39,309.90 L179.96,309.90 L177.54,309.90 L175.11,309.90 L172.69,309.90 L170.26,309.90 L167.84,309.90 L165.41,309.89 L162.98,309.89 L160.56,309.88 L158.13,309.87 L155.71,309.86 L153.28,309.85 L150.85,309.84 L148.43,309.83 L146.00,309.81 L143.58,309.80 L141.15,309.78 L138.72,309.76 L136.30,309.75 L133.87,309.73 L131.45,309.71 L129.02,309.68 L126.59,309.66 L124.17,309.64 L121.74,309.61 L119.32,309.59 L116.89,309.56 L114.47,309.53 L112.04,309.51 L109.61,309.48 L107.19,309.45 L104.76,309.42 L102.34,309.39 L99.91,309.36 L97.48,309.33 L95.06,309.30 L92.63,309.26 L90.21,309.23 L87.78,309.20 L85.35,309.16 L82.93,309.13 L80.50,309.10 L78.08,309.06 L75.65,309.03 L73.23,308.99 L70.80,308.96 L68.37,308.92 L65.95,308.89 L63.52,308.85 L61.10,308.81 L58.67,308.78 L56.24,308.74 L53.82,308.70 L51.39,308.66 L48.97,308.63 L46.54,308.59 L44.11,308.54 L41.69,308.50 L39.26,308.46 L36.84,308.42 L34.41,308.37 L31.98,308.33 L29.56,308.28 L27.13,308.24 L24.71,308.19 L22.28,308.15 L19.86,308.10 L17.43,308.05 L15.00,308.00 L12.58,307.95 L10.15,307.90 L7.73,307.85 L5.30,307.80Z" fill="#dcb9e2"/>
<path d="M5.30,299.05 L7.73,299.07 L10.15,299.10 L12.58,299.13 L15.00,299.16 L17.43,299.19 L19.86,299.21 L22.28,299.24 L24.71,299.27 L27.13,299.29 L29.56,299.32 L31.98,299.35 L34.41,299.37 L36.84,299.40 L39.26,299.42 L41.69,299.45 L44.11,299.47 L46.54,299.50 L48.97,299.52 L51.39,299.54 L53.82,299.56 L56.24,299.59 L58.67,299.61 L61.10,299.63 L63.52,299.65 L65.95,299.67 L68.37,299.69 L70.80,299.72 L73.23,299.74 L75.65,299.76 L78.08,299.78 L80.50,299.80 L82.93,299.83 L85.35,299.85 L87.78,299.87 L90.21,299.89 L92.63,299.92 L95.06,299.94 L97.48,299.96 L99.91,299.98 L102.34,300.00 L104.76,300.02 L107.19,300.04 L109.61,300.07 L112.04,300.09 L114.47,300.11 L116.89,300.12 L119.32,300.14 L121.74,300.16 L124.17,300.18 L126.59,300.20 L129.02,300.21 L131.45,300.23 L133.87,300.25 L136.30,300.26 L138.72,300.28 L141.15,300.29 L143.58,300.30 L146.00,300.31 L148.43,300.32 L150.85,300.33 L153.28,300.34 L155.71,300.35 L158.13,300.36 L160.56,300.36 L162.98,300.37 L165.41,300.37 L167.84,300.38 L170.26,300.38 L172.69,300.38 L175.11,300.38 L177.54,300.38 L179.96,300.38 L182.39,300.38 L184.82,300.38 L187.24,300.38 L189.67,300.38 L192.09,300.38 L194.52,300.37 L196.95,300.37 L199.37,300.37 L201.80,300.37 L204.22,300.37 L206.65,300.37 L209.08,300.36 L211.50,300.36 L213.93,300.36 L216.35,300.36 L218.78,300.36 L221.21,300.35 L223.63,300.35 L226.06,300.35 L228.48,300.34 L230.91,300.34 L233.33,300.34 L235.76,300.33 L238.19,300.33 L240.61,300.32 L243.04,300.32 L245.46,300.32 L247.89,300.31 L250.32,300.31 L252.74,300.30 L255.17,300.30 L257.59,300.29 L260.02,300.29 L262.45,300.28 L264.87,300.28 L267.30,300.27 L269.72,300.26 L272.15,300.26 L274.57,300.25 L277.00,300.25 L279.43,300.24 L281.85,300.23 L284.28,300.22 L286.70,300.22 L289.13,300.21 L291.56,300.20 L293.98,300.18 L296.41,300.16 L298.83,300.13 L301.26,300.09 L303.69,300.05 L306.11,300.00 L308.54,299.95 L310.96,299.89 L313.39,299.83 L315.82,299.77 L318.24,299.70 L320.67,299.63 L323.09,299.55 L325.52,299.48 L327.94,299.40 L330.37,299.32 L332.80,299.24 L335.22,299.16 L337.65,299.08 L340.07,299.01 L342.50,298.93" fill="none" stroke="rgba(50,35,55,0.3)" stroke-width="1.2"/>
<path d="M5.30,301.72 L7.73,301.76 L10.15,301.79 L12.58,301.83 L15.00,301.86 L17.43,301.90 L19.86,301.93 L22.28,301.96 L24.71,302.00 L27.13,302.03 L29.56,302.06 L31.98,302.09 L34.41,302.13 L36.84,302.16 L39.26,302.19 L41.69,302.22 L44.11,302.25 L46.54,302.28 L48.97,302.30 L51.39,302.33 L53.82,302.36 L56.24,302.39 L58.67,302.41 L61.10,302.44 L63.52,302.46 L65.95,302.49 L68.37,302.52 L70.80,302.54 L73.23,302.57 L75.65,302.59 L78.08,302.62 L80.50,302.65 L82.93,302.67 L85.35,302.70 L87.78,302.72 L90.21,302.75 L92.63,302.78 L95.06,302.80 L97.48,302.83 L99.91,302.85 L102.34,302.87 L104.76,302.90 L107.19,302.92 L109.61,302.94 L112.04,302.97 L114.47,302.99 L116.89,303.01 L119.32,303.03 L121.74,303.05 L124.17,303.07 L126.59,303.09 L129.02,303.11 L131.45,303.13 L133.87,303.15 L136.30,303.16 L138.72,303.18 L141.15,303.19 L143.58,303.21 L146.00,303.22 L148.43,303.23 L150.85,303.24 L153.28,303.25 L155.71,303.26 L158.13,303.27 L160.56,303.28 L162.98,303.28 L165.41,303.29 L167.84,303.29 L170.26,303.29 L172.69,303.29 L175.11,303.29 L177.54,303.29 L179.96,303.29 L182.39,303.29 L184.82,303.29 L187.24,303.29 L189.67,303.29 L192.09,303.28 L194.52,303.28 L196.95,303.28 L199.37,303.28 L201.80,303.27 L204.22,303.27 L206.65,303.27 L209.08,303.26 L211.50,303.26 L213.93,303.26 L216.35,303.25 L218.78,303.25 L221.21,303.24 L223.63,303.24 L226.06,303.23 L228.48,303.23 L230.91,303.22 L233.33,303.21 L235.76,303.21 L238.19,303.20 L240.61,303.19 L243.04,303.19 L245.46,303.18 L247.89,303.17 L250.32,303.16 L252.74,303.16 L255.17,303.15 L257.59,303.14 L260.02,303.13 L262.45,303.12 L264.87,303.11 L267.30,303.10 L269.72,303.09 L272.15,303.08 L274.57,303.07 L277.00,303.06 L279.43,303.05 L281.85,303.04 L284.28,303.02 L286.70,303.01 L289.13,303.00 L291.56,302.98 L293.98,302.96 L296.41,302.93 L298.83,302.90 L301.26,302.86 L303.69,302.81 L306.11,302.75 L308.54,302.70 L310.96,302.63 L313.39,302.56 L315.82,302.49 L318.24,302.42 L320.67,302.34 L323.09,302.26 L325.52,302.18 L327.94,302.09 L330.37,302.01 L332.80,301.92 L335.22,301.84 L337.65,301.75 L340.07,301.67 L342.50,301.58" fill="none" stroke="rgba(50,35,55,0.3)" stroke-width="1.2"/>
<path d="M5.30,304.30 L7.73,304.34 L10.15,304.38 L12.58,304.42 L15.00,304.46 L17.43,304.50 L19.86,304.54 L22.28,304.58 L24.71,304.62 L27.13,304.66 L29.56,304.70 L31.98,304.74 L34.41,304.77 L36.84,304.81 L39.26,304.85 L41.69,304.88 L44.11,304.92 L46.54,304.95 L48.97,304.98 L51.39,305.02 L53.82,305.05 L56.24,305.08 L58.67,305.11 L61.10,305.14 L63.52,305.17 L65.95,305.20 L68.37,305.23 L70.80,305.26 L73.23,305.29 L75.65,305.32 L78.08,305.35 L80.50,305.38 L82.93,305.41 L85.35,305.44 L87.78,305.47 L90.21,305.50 L92.63,305.52 L95.06,305.55 L97.48,305.58 L99.91,305.61 L102.34,305.64 L104.76,305.66 L107.19,305.69 L109.61,305.71 L112.04,305.74 L114.47,305.76 L116.89,305.79 L119.32,305.81 L121.74,305.83 L124.17,305.85 L126.59,305.88 L129.02,305.90 L131.45,305.92 L133.87,305.93 L136.30,305.95 L138.72,305.97 L141.15,305.98 L143.58,306.00 L146.00,306.01 L148.43,306.03 L150.85,306.04 L153.28,306.05 L155.71,306.06 L158.13,306.07 L160.56,306.07 L162.98,306.08 L165.41,306.09 L167.84,306.09 L170.26,306.09 L172.69,306.09 L175.11,306.09 L177.54,306.09 L179.96,306.09 L182.39,306.09 L184.82,306.09 L187.24,306.09 L189.67,306.08 L192.09,306.08 L194.52,306.08 L196.95,306.07 L199.37,306.07 L201.80,306.07 L204.22,306.06 L206.65,306.06 L209.08,306.05 L211.50,306.05 L213.93,306.04 L216.35,306.04 L218.78,306.03 L221.21,306.02 L223.63,306.01 L226.06,306.01 L228.48,306.00 L230.91,305.99 L233.33,305.98 L235.76,305.97 L238.19,305.96 L240.61,305.95 L243.04,305.94 L245.46,305.93 L247.89,305.92 L250.32,305.91 L252.74,305.90 L255.17,305.89 L257.59,305.87 L260.02,305.86 L262.45,305.85 L264.87,305.84 L267.30,305.82 L269.72,305.81 L272.15,305.79 L274.57,305.78 L277.00,305.76 L279.43,305.75 L281.85,305.73 L284.28,305.71 L286.70,305.70 L289.13,305.68 L291.56,305.66 L293.98,305.63 L296.41,305.60 L298.83,305.56 L301.26,305.51 L303.69,305.46 L306.11,305.40 L308.54,305.33 L310.96,305.27 L313.39,305.19 L315.82,305.11 L318.24,305.03 L320.67,304.95 L323.09,304.86 L325.52,304.77 L327.94,304.68 L330.37,304.59 L332.80,304.50 L335.22,304.41 L337.65,304.32 L340.07,304.22 L342.50,304.13" fill="none" stroke="rgba(50,35,55,0.3)" stroke-width="1.2"/>
<path d="M5.30,306.77 L7.73,306.82 L10.15,306.87 L12.58,306.91 L15.00,306.96 L17.43,307.01 L19.86,307.05 L22.28,307.10 L24.71,307.14 L27.13,307.19 L29.56,307.23 L31.98,307.27 L34.41,307.31 L36.84,307.36 L39.26,307.40 L41.69,307.44 L44.11,307.48 L46.54,307.52 L48.97,307.55 L51.39,307.59 L53.82,307.63 L56.24,307.66 L58.67,307.70 L61.10,307.73 L63.52,307.77 L65.95,307.80 L68.37,307.84 L70.80,307.87 L73.23,307.90 L75.65,307.94 L78.08,307.97 L80.50,308.00 L82.93,308.04 L85.35,308.07 L87.78,308.10 L90.21,308.13 L92.63,308.16 L95.06,308.20 L97.48,308.23 L99.91,308.26 L102.34,308.29 L104.76,308.32 L107.19,308.34 L109.61,308.37 L112.04,308.40 L114.47,308.43 L116.89,308.45 L119.32,308.48 L121.74,308.50 L124.17,308.52 L126.59,308.55 L129.02,308.57 L131.45,308.59 L133.87,308.61 L136.30,308.63 L138.72,308.65 L141.15,308.67 L143.58,308.68 L146.00,308.70 L148.43,308.71 L150.85,308.72 L153.28,308.73 L155.71,308.74 L158.13,308.75 L160.56,308.76 L162.98,308.77 L165.41,308.77 L167.84,308.78 L170.26,308.78 L172.69,308.78 L175.11,308.78 L177.54,308.78 L179.96,308.78 L182.39,308.78 L184.82,308.77 L187.24,308.77 L189.67,308.77 L192.09,308.77 L194.52,308.76 L196.95,308.76 L199.37,308.75 L201.80,308.75 L204.22,308.74 L206.65,308.74 L209.08,308.73 L211.50,308.72 L213.93,308.72 L216.35,308.71 L218.78,308.70 L221.21,308.69 L223.63,308.68 L226.06,308.67 L228.48,308.66 L230.91,308.65 L233.33,308.64 L235.76,308.63 L238.19,308.62 L240.61,308.60 L243.04,308.59 L245.46,308.58 L247.89,308.56 L250.32,308.55 L252.74,308.53 L255.17,308.52 L257.59,308.50 L260.02,308.49 L262.45,308.47 L264.87,308.45 L267.30,308.43 L269.72,308.42 L272.15,308.40 L274.57,308.38 L277.00,308.36 L279.43,308.34 L281.85,308.32 L284.28,308.30 L286.70,308.28 L289.13,308.25 L291.56,308.23 L293.98,308.20 L296.41,308.16 L298.83,308.11 L301.26,308.06 L303.69,308.00 L306.11,307.94 L308.54,307.87 L310.96,307.79 L313.39,307.71 L315.82,307.63 L318.24,307.54 L320.67,307.45 L323.09,307.36 L325.52,307.27 L327.94,307.17 L330.37,307.07 L332.80,306.97 L335.22,306.88 L337.65,306.78 L340.07,306.68 L342.50,306.58" fill="none" stroke="rgba(50,35,55,0.3)" stroke-width="1.2"/>
<clipPath id="c1"><path d="M0,290 L49.3,290 L57.2,312 L0,312Z M342,290 L299,290 L291,312 L342,312Z"/></clipPath>
<g clip-path="url(#c1)"><path d="M5.30,297.50 L7.73,297.52 L10.15,297.55 L12.58,297.57 L15.00,297.60 L17.43,297.62 L19.86,297.65 L22.28,297.67 L24.71,297.69 L27.13,297.72 L29.56,297.74 L31.98,297.76 L34.41,297.78 L36.84,297.81 L39.26,297.83 L41.69,297.85 L44.11,297.87 L46.54,297.89 L48.97,297.91 L51.39,297.93 L53.82,297.95 L56.24,297.97 L58.67,297.99 L61.10,298.01 L63.52,298.03 L65.95,298.05 L68.37,298.07 L70.80,298.08 L73.23,298.10 L75.65,298.12 L78.08,298.14 L80.50,298.16 L82.93,298.18 L85.35,298.21 L87.78,298.23 L90.21,298.25 L92.63,298.27 L95.06,298.29 L97.48,298.31 L99.91,298.33 L102.34,298.35 L104.76,298.37 L107.19,298.39 L109.61,298.40 L112.04,298.42 L114.47,298.44 L116.89,298.46 L119.32,298.48 L121.74,298.49 L124.17,298.51 L126.59,298.53 L129.02,298.54 L131.45,298.56 L133.87,298.57 L136.30,298.59 L138.72,298.60 L141.15,298.61 L143.58,298.63 L146.00,298.64 L148.43,298.65 L150.85,298.66 L153.28,298.66 L155.71,298.67 L158.13,298.68 L160.56,298.69 L162.98,298.69 L165.41,298.69 L167.84,298.70 L170.26,298.70 L172.69,298.70 L175.11,298.70 L177.54,298.70 L179.96,298.70 L182.39,298.70 L184.82,298.70 L187.24,298.70 L189.67,298.70 L192.09,298.70 L194.52,298.70 L196.95,298.70 L199.37,298.70 L201.80,298.69 L204.22,298.69 L206.65,298.69 L209.08,298.69 L211.50,298.69 L213.93,298.69 L216.35,298.69 L218.78,298.69 L221.21,298.68 L223.63,298.68 L226.06,298.68 L228.48,298.68 L230.91,298.68 L233.33,298.68 L235.76,298.67 L238.19,298.67 L240.61,298.67 L243.04,298.67 L245.46,298.66 L247.89,298.66 L250.32,298.66 L252.74,298.66 L255.17,298.65 L257.59,298.65 L260.02,298.65 L262.45,298.64 L264.87,298.64 L267.30,298.64 L269.72,298.63 L272.15,298.63 L274.57,298.63 L277.00,298.62 L279.43,298.62 L281.85,298.61 L284.28,298.61 L286.70,298.61 L289.13,298.60 L291.56,298.60 L293.98,298.58 L296.41,298.56 L298.83,298.53 L301.26,298.50 L303.69,298.46 L306.11,298.42 L308.54,298.37 L310.96,298.31 L313.39,298.26 L315.82,298.19 L318.24,298.13 L320.67,298.06 L323.09,297.99 L325.52,297.92 L327.94,297.85 L330.37,297.77 L332.80,297.70 L335.22,297.62 L337.65,297.55 L340.07,297.47 L342.50,297.40 L342.50,307.60 L340.07,307.70 L337.65,307.80 L335.22,307.90 L332.80,308.01 L330.37,308.11 L327.94,308.21 L325.52,308.31 L323.09,308.40 L320.67,308.50 L318.24,308.59 L315.82,308.68 L313.39,308.76 L310.96,308.85 L308.54,308.92 L306.11,309.00 L303.69,309.06 L301.26,309.12 L298.83,309.18 L296.41,309.23 L293.98,309.27 L291.56,309.30 L289.13,309.33 L286.70,309.35 L284.28,309.37 L281.85,309.40 L279.43,309.42 L277.00,309.44 L274.57,309.46 L272.15,309.48 L269.72,309.50 L267.30,309.52 L264.87,309.54 L262.45,309.56 L260.02,309.58 L257.59,309.60 L255.17,309.61 L252.74,309.63 L250.32,309.65 L247.89,309.66 L245.46,309.68 L243.04,309.69 L240.61,309.71 L238.19,309.72 L235.76,309.73 L233.33,309.75 L230.91,309.76 L228.48,309.77 L226.06,309.78 L223.63,309.79 L221.21,309.80 L218.78,309.81 L216.35,309.82 L213.93,309.83 L211.50,309.84 L209.08,309.84 L206.65,309.85 L204.22,309.86 L201.80,309.86 L199.37,309.87 L196.95,309.88 L194.52,309.88 L192.09,309.88 L189.67,309.89 L187.24,309.89 L184.82,309.89 L182.39,309.90 L179.96,309.90 L177.54,309.90 L175.11,309.90 L172.69,309.90 L170.26,309.90 L167.84,309.90 L165.41,309.89 L162.98,309.89 L160.56,309.88 L158.13,309.87 L155.71,309.86 L153.28,309.85 L150.85,309.84 L148.43,309.83 L146.00,309.81 L143.58,309.80 L141.15,309.78 L138.72,309.76 L136.30,309.75 L133.87,309.73 L131.45,309.71 L129.02,309.68 L126.59,309.66 L124.17,309.64 L121.74,309.61 L119.32,309.59 L116.89,309.56 L114.47,309.53 L112.04,309.51 L109.61,309.48 L107.19,309.45 L104.76,309.42 L102.34,309.39 L99.91,309.36 L97.48,309.33 L95.06,309.30 L92.63,309.26 L90.21,309.23 L87.78,309.20 L85.35,309.16 L82.93,309.13 L80.50,309.10 L78.08,309.06 L75.65,309.03 L73.23,308.99 L70.80,308.96 L68.37,308.92 L65.95,308.89 L63.52,308.85 L61.10,308.81 L58.67,308.78 L56.24,308.74 L53.82,308.70 L51.39,308.66 L48.97,308.63 L46.54,308.59 L44.11,308.54 L41.69,308.50 L39.26,308.46 L36.84,308.42 L34.41,308.37 L31.98,308.33 L29.56,308.28 L27.13,308.24 L24.71,308.19 L22.28,308.15 L19.86,308.10 L17.43,308.05 L15.00,308.00 L12.58,307.95 L10.15,307.90 L7.73,307.85 L5.30,307.80Z" fill="url(#g1)"/>
<path d="M5.30,299.05 L7.73,299.07 L10.15,299.10 L12.58,299.13 L15.00,299.16 L17.43,299.19 L19.86,299.21 L22.28,299.24 L24.71,299.27 L27.13,299.29 L29.56,299.32 L31.98,299.35 L34.41,299.37 L36.84,299.40 L39.26,299.42 L41.69,299.45 L44.11,299.47 L46.54,299.50 L48.97,299.52 L51.39,299.54 L53.82,299.56 L56.24,299.59 L58.67,299.61 L61.10,299.63 L63.52,299.65 L65.95,299.67 L68.37,299.69 L70.80,299.72 L73.23,299.74 L75.65,299.76 L78.08,299.78 L80.50,299.80 L82.93,299.83 L85.35,299.85 L87.78,299.87 L90.21,299.89 L92.63,299.92 L95.06,299.94 L97.48,299.96 L99.91,299.98 L102.34,300.00 L104.76,300.02 L107.19,300.04 L109.61,300.07 L112.04,300.09 L114.47,300.11 L116.89,300.12 L119.32,300.14 L121.74,300.16 L124.17,300.18 L126.59,300.20 L129.02,300.21 L131.45,300.23 L133.87,300.25 L136.30,300.26 L138.72,300.28 L141.15,300.29 L143.58,300.30 L146.00,300.31 L148.43,300.32 L150.85,300.33 L153.28,300.34 L155.71,300.35 L158.13,300.36 L160.56,300.36 L162.98,300.37 L165.41,300.37 L167.84,300.38 L170.26,300.38 L172.69,300.38 L175.11,300.38 L177.54,300.38 L179.96,300.38 L182.39,300.38 L184.82,300.38 L187.24,300.38 L189.67,300.38 L192.09,300.38 L194.52,300.37 L196.95,300.37 L199.37,300.37 L201.80,300.37 L204.22,300.37 L206.65,300.37 L209.08,300.36 L211.50,300.36 L213.93,300.36 L216.35,300.36 L218.78,300.36 L221.21,300.35 L223.63,300.35 L226.06,300.35 L228.48,300.34 L230.91,300.34 L233.33,300.34 L235.76,300.33 L238.19,300.33 L240.61,300.32 L243.04,300.32 L245.46,300.32 L247.89,300.31 L250.32,300.31 L252.74,300.30 L255.17,300.30 L257.59,300.29 L260.02,300.29 L262.45,300.28 L264.87,300.28 L267.30,300.27 L269.72,300.26 L272.15,300.26 L274.57,300.25 L277.00,300.25 L279.43,300.24 L281.85,300.23 L284.28,300.22 L286.70,300.22 L289.13,300.21 L291.56,300.20 L293.98,300.18 L296.41,300.16 L298.83,300.13 L301.26,300.09 L303.69,300.05 L306.11,300.00 L308.54,299.95 L310.96,299.89 L313.39,299.83 L315.82,299.77 L318.24,299.70 L320.67,299.63 L323.09,299.55 L325.52,299.48 L327.94,299.40 L330.37,299.32 L332.80,299.24 L335.22,299.16 L337.65,299.08 L340.07,299.01 L342.50,298.93" fill="none" stroke="rgba(80,25,35,0.5)" stroke-width="1.05"/>
<path d="M5.30,301.72 L7.73,301.76 L10.15,301.79 L12.58,301.83 L15.00,301.86 L17.43,301.90 L19.86,301.93 L22.28,301.96 L24.71,302.00 L27.13,302.03 L29.56,302.06 L31.98,302.09 L34.41,302.13 L36.84,302.16 L39.26,302.19 L41.69,302.22 L44.11,302.25 L46.54,302.28 L48.97,302.30 L51.39,302.33 L53.82,302.36 L56.24,302.39 L58.67,302.41 L61.10,302.44 L63.52,302.46 L65.95,302.49 L68.37,302.52 L70.80,302.54 L73.23,302.57 L75.65,302.59 L78.08,302.62 L80.50,302.65 L82.93,302.67 L85.35,302.70 L87.78,302.72 L90.21,302.75 L92.63,302.78 L95.06,302.80 L97.48,302.83 L99.91,302.85 L102.34,302.87 L104.76,302.90 L107.19,302.92 L109.61,302.94 L112.04,302.97 L114.47,302.99 L116.89,303.01 L119.32,303.03 L121.74,303.05 L124.17,303.07 L126.59,303.09 L129.02,303.11 L131.45,303.13 L133.87,303.15 L136.30,303.16 L138.72,303.18 L141.15,303.19 L143.58,303.21 L146.00,303.22 L148.43,303.23 L150.85,303.24 L153.28,303.25 L155.71,303.26 L158.13,303.27 L160.56,303.28 L162.98,303.28 L165.41,303.29 L167.84,303.29 L170.26,303.29 L172.69,303.29 L175.11,303.29 L177.54,303.29 L179.96,303.29 L182.39,303.29 L184.82,303.29 L187.24,303.29 L189.67,303.29 L192.09,303.28 L194.52,303.28 L196.95,303.28 L199.37,303.28 L201.80,303.27 L204.22,303.27 L206.65,303.27 L209.08,303.26 L211.50,303.26 L213.93,303.26 L216.35,303.25 L218.78,303.25 L221.21,303.24 L223.63,303.24 L226.06,303.23 L228.48,303.23 L230.91,303.22 L233.33,303.21 L235.76,303.21 L238.19,303.20 L240.61,303.19 L243.04,303.19 L245.46,303.18 L247.89,303.17 L250.32,303.16 L252.74,303.16 L255.17,303.15 L257.59,303.14 L260.02,303.13 L262.45,303.12 L264.87,303.11 L267.30,303.10 L269.72,303.09 L272.15,303.08 L274.57,303.07 L277.00,303.06 L279.43,303.05 L281.85,303.04 L284.28,303.02 L286.70,303.01 L289.13,303.00 L291.56,302.98 L293.98,302.96 L296.41,302.93 L298.83,302.90 L301.26,302.86 L303.69,302.81 L306.11,302.75 L308.54,302.70 L310.96,302.63 L313.39,302.56 L315.82,302.49 L318.24,302.42 L320.67,302.34 L323.09,302.26 L325.52,302.18 L327.94,302.09 L330.37,302.01 L332.80,301.92 L335.22,301.84 L337.65,301.75 L340.07,301.67 L342.50,301.58" fill="none" stroke="rgba(80,25,35,0.5)" stroke-width="1.05"/>
<path d="M5.30,304.30 L7.73,304.34 L10.15,304.38 L12.58,304.42 L15.00,304.46 L17.43,304.50 L19.86,304.54 L22.28,304.58 L24.71,304.62 L27.13,304.66 L29.56,304.70 L31.98,304.74 L34.41,304.77 L36.84,304.81 L39.26,304.85 L41.69,304.88 L44.11,304.92 L46.54,304.95 L48.97,304.98 L51.39,305.02 L53.82,305.05 L56.24,305.08 L58.67,305.11 L61.10,305.14 L63.52,305.17 L65.95,305.20 L68.37,305.23 L70.80,305.26 L73.23,305.29 L75.65,305.32 L78.08,305.35 L80.50,305.38 L82.93,305.41 L85.35,305.44 L87.78,305.47 L90.21,305.50 L92.63,305.52 L95.06,305.55 L97.48,305.58 L99.91,305.61 L102.34,305.64 L104.76,305.66 L107.19,305.69 L109.61,305.71 L112.04,305.74 L114.47,305.76 L116.89,305.79 L119.32,305.81 L121.74,305.83 L124.17,305.85 L126.59,305.88 L129.02,305.90 L131.45,305.92 L133.87,305.93 L136.30,305.95 L138.72,305.97 L141.15,305.98 L143.58,306.00 L146.00,306.01 L148.43,306.03 L150.85,306.04 L153.28,306.05 L155.71,306.06 L158.13,306.07 L160.56,306.07 L162.98,306.08 L165.41,306.09 L167.84,306.09 L170.26,306.09 L172.69,306.09 L175.11,306.09 L177.54,306.09 L179.96,306.09 L182.39,306.09 L184.82,306.09 L187.24,306.09 L189.67,306.08 L192.09,306.08 L194.52,306.08 L196.95,306.07 L199.37,306.07 L201.80,306.07 L204.22,306.06 L206.65,306.06 L209.08,306.05 L211.50,306.05 L213.93,306.04 L216.35,306.04 L218.78,306.03 L221.21,306.02 L223.63,306.01 L226.06,306.01 L228.48,306.00 L230.91,305.99 L233.33,305.98 L235.76,305.97 L238.19,305.96 L240.61,305.95 L243.04,305.94 L245.46,305.93 L247.89,305.92 L250.32,305.91 L252.74,305.90 L255.17,305.89 L257.59,305.87 L260.02,305.86 L262.45,305.85 L264.87,305.84 L267.30,305.82 L269.72,305.81 L272.15,305.79 L274.57,305.78 L277.00,305.76 L279.43,305.75 L281.85,305.73 L284.28,305.71 L286.70,305.70 L289.13,305.68 L291.56,305.66 L293.98,305.63 L296.41,305.60 L298.83,305.56 L301.26,305.51 L303.69,305.46 L306.11,305.40 L308.54,305.33 L310.96,305.27 L313.39,305.19 L315.82,305.11 L318.24,305.03 L320.67,304.95 L323.09,304.86 L325.52,304.77 L327.94,304.68 L330.37,304.59 L332.80,304.50 L335.22,304.41 L337.65,304.32 L340.07,304.22 L342.50,304.13" fill="none" stroke="rgba(80,25,35,0.5)" stroke-width="1.05"/>
<path d="M5.30,306.77 L7.73,306.82 L10.15,306.87 L12.58,306.91 L15.00,306.96 L17.43,307.01 L19.86,307.05 L22.28,307.10 L24.71,307.14 L27.13,307.19 L29.56,307.23 L31.98,307.27 L34.41,307.31 L36.84,307.36 L39.26,307.40 L41.69,307.44 L44.11,307.48 L46.54,307.52 L48.97,307.55 L51.39,307.59 L53.82,307.63 L56.24,307.66 L58.67,307.70 L61.10,307.73 L63.52,307.77 L65.95,307.80 L68.37,307.84 L70.80,307.87 L73.23,307.90 L75.65,307.94 L78.08,307.97 L80.50,308.00 L82.93,308.04 L85.35,308.07 L87.78,308.10 L90.21,308.13 L92.63,308.16 L95.06,308.20 L97.48,308.23 L99.91,308.26 L102.34,308.29 L104.76,308.32 L107.19,308.34 L109.61,308.37 L112.04,308.40 L114.47,308.43 L116.89,308.45 L119.32,308.48 L121.74,308.50 L124.17,308.52 L126.59,308.55 L129.02,308.57 L131.45,308.59 L133.87,308.61 L136.30,308.63 L138.72,308.65 L141.15,308.67 L143.58,308.68 L146.00,308.70 L148.43,308.71 L150.85,308.72 L153.28,308.73 L155.71,308.74 L158.13,308.75 L160.56,308.76 L162.98,308.77 L165.41,308.77 L167.84,308.78 L170.26,308.78 L172.69,308.78 L175.11,308.78 L177.54,308.78 L179.96,308.78 L182.39,308.78 L184.82,308.77 L187.24,308.77 L189.67,308.77 L192.09,308.77 L194.52,308.76 L196.95,308.76 L199.37,308.75 L201.80,308.75 L204.22,308.74 L206.65,308.74 L209.08,308.73 L211.50,308.72 L213.93,308.72 L216.35,308.71 L218.78,308.70 L221.21,308.69 L223.63,308.68 L226.06,308.67 L228.48,308.66 L230.91,308.65 L233.33,308.64 L235.76,308.63 L238.19,308.62 L240.61,308.60 L243.04,308.59 L245.46,308.58 L247.89,308.56 L250.32,308.55 L252.74,308.53 L255.17,308.52 L257.59,308.50 L260.02,308.49 L262.45,308.47 L264.87,308.45 L267.30,308.43 L269.72,308.42 L272.15,308.40 L274.57,308.38 L277.00,308.36 L279.43,308.34 L281.85,308.32 L284.28,308.30 L286.70,308.28 L289.13,308.25 L291.56,308.23 L293.98,308.20 L296.41,308.16 L298.83,308.11 L301.26,308.06 L303.69,308.00 L306.11,307.94 L308.54,307.87 L310.96,307.79 L313.39,307.71 L315.82,307.63 L318.24,307.54 L320.67,307.45 L323.09,307.36 L325.52,307.27 L327.94,307.17 L330.37,307.07 L332.80,306.97 L335.22,306.88 L337.65,306.78 L340.07,306.68 L342.50,306.58" fill="none" stroke="rgba(80,25,35,0.5)" stroke-width="1.05"/>
</g>
<path d="M46.75,274.58 A35.6,35.6 0 0 1 9.58,297.80" fill="none" stroke="#999" stroke-width="0.7"/>
<path d="M337.73,298.11 A34.7,34.7 0 0 1 301.93,276.60" fill="none" stroke="#999" stroke-width="0.7"/>
<circle cx="7.5" cy="288.7" r="7.1" fill="#fff" stroke="#000" stroke-width="1.3"/><text x="7.5" y="292.8" text-anchor="middle" font-size="12" style="stroke-width:0.45px">1</text>
<path d="M5.30,335.20 L7.73,335.22 L10.15,335.23 L12.58,335.25 L15.00,335.26 L17.43,335.28 L19.86,335.30 L22.28,335.31 L24.71,335.33 L27.13,335.35 L29.56,335.37 L31.98,335.38 L34.41,335.40 L36.84,335.42 L39.26,335.44 L41.69,335.46 L44.11,335.47 L46.54,335.49 L48.97,335.51 L51.39,335.53 L53.82,335.55 L56.24,335.57 L58.67,335.59 L61.10,335.61 L63.52,335.63 L65.95,335.65 L68.37,335.68 L70.80,335.70 L73.23,335.73 L75.65,335.75 L78.08,335.78 L80.50,335.81 L82.93,335.84 L85.35,335.87 L87.78,335.90 L90.21,335.93 L92.63,335.96 L95.06,335.99 L97.48,336.02 L99.91,336.05 L102.34,336.08 L104.76,336.12 L107.19,336.15 L109.61,336.18 L112.04,336.21 L114.47,336.24 L116.89,336.27 L119.32,336.30 L121.74,336.33 L124.17,336.36 L126.59,336.39 L129.02,336.42 L131.45,336.44 L133.87,336.47 L136.30,336.49 L138.72,336.52 L141.15,336.54 L143.58,336.56 L146.00,336.58 L148.43,336.60 L150.85,336.62 L153.28,336.63 L155.71,336.65 L158.13,336.66 L160.56,336.67 L162.98,336.68 L165.41,336.69 L167.84,336.70 L170.26,336.70 L172.69,336.70 L175.11,336.70 L177.54,336.70 L179.96,336.70 L182.39,336.70 L184.82,336.70 L187.24,336.69 L189.67,336.69 L192.09,336.69 L194.52,336.69 L196.95,336.68 L199.37,336.68 L201.80,336.68 L204.22,336.67 L206.65,336.67 L209.08,336.66 L211.50,336.66 L213.93,336.65 L216.35,336.65 L218.78,336.64 L221.21,336.63 L223.63,336.63 L226.06,336.62 L228.48,336.61 L230.91,336.60 L233.33,336.60 L235.76,336.59 L238.19,336.58 L240.61,336.57 L243.04,336.56 L245.46,336.55 L247.89,336.54 L250.32,336.53 L252.74,336.52 L255.17,336.51 L257.59,336.49 L260.02,336.48 L262.45,336.47 L264.87,336.46 L267.30,336.44 L269.72,336.43 L272.15,336.42 L274.57,336.40 L277.00,336.39 L279.43,336.37 L281.85,336.36 L284.28,336.34 L286.70,336.32 L289.13,336.31 L291.56,336.29 L293.98,336.26 L296.41,336.22 L298.83,336.17 L301.26,336.11 L303.69,336.04 L306.11,335.96 L308.54,335.88 L310.96,335.79 L313.39,335.69 L315.82,335.59 L318.24,335.49 L320.67,335.38 L323.09,335.26 L325.52,335.15 L327.94,335.03 L330.37,334.91 L332.80,334.78 L335.22,334.66 L337.65,334.54 L340.07,334.42 L342.50,334.30 L342.50,345.70 L340.07,345.79 L337.65,345.87 L335.22,345.96 L332.80,346.05 L330.37,346.14 L327.94,346.23 L325.52,346.32 L323.09,346.40 L320.67,346.49 L318.24,346.57 L315.82,346.64 L313.39,346.71 L310.96,346.78 L308.54,346.84 L306.11,346.89 L303.69,346.94 L301.26,346.98 L298.83,347.01 L296.41,347.03 L293.98,347.04 L291.56,347.04 L289.13,347.04 L286.70,347.03 L284.28,347.02 L281.85,347.01 L279.43,346.99 L277.00,346.98 L274.57,346.97 L272.15,346.96 L269.72,346.95 L267.30,346.94 L264.87,346.93 L262.45,346.92 L260.02,346.91 L257.59,346.90 L255.17,346.89 L252.74,346.88 L250.32,346.88 L247.89,346.87 L245.46,346.86 L243.04,346.85 L240.61,346.84 L238.19,346.83 L235.76,346.82 L233.33,346.81 L230.91,346.81 L228.48,346.80 L226.06,346.79 L223.63,346.78 L221.21,346.78 L218.78,346.77 L216.35,346.76 L213.93,346.76 L211.50,346.75 L209.08,346.74 L206.65,346.74 L204.22,346.73 L201.80,346.73 L199.37,346.72 L196.95,346.72 L194.52,346.72 L192.09,346.71 L189.67,346.71 L187.24,346.71 L184.82,346.71 L182.39,346.70 L179.96,346.70 L177.54,346.70 L175.11,346.70 L172.69,346.70 L170.26,346.70 L167.84,346.70 L165.41,346.69 L162.98,346.68 L160.56,346.67 L158.13,346.66 L155.71,346.65 L153.28,346.64 L150.85,346.62 L148.43,346.60 L146.00,346.58 L143.58,346.56 L141.15,346.54 L138.72,346.52 L136.30,346.50 L133.87,346.47 L131.45,346.45 L129.02,346.42 L126.59,346.40 L124.17,346.37 L121.74,346.34 L119.32,346.31 L116.89,346.29 L114.47,346.26 L112.04,346.23 L109.61,346.20 L107.19,346.17 L104.76,346.14 L102.34,346.11 L99.91,346.09 L97.48,346.06 L95.06,346.03 L92.63,346.00 L90.21,345.98 L87.78,345.95 L85.35,345.92 L82.93,345.90 L80.50,345.88 L78.08,345.85 L75.65,345.83 L73.23,345.81 L70.80,345.79 L68.37,345.77 L65.95,345.76 L63.52,345.74 L61.10,345.73 L58.67,345.72 L56.24,345.70 L53.82,345.69 L51.39,345.68 L48.97,345.67 L46.54,345.66 L44.11,345.66 L41.69,345.65 L39.26,345.64 L36.84,345.63 L34.41,345.63 L31.98,345.62 L29.56,345.62 L27.13,345.61 L24.71,345.61 L22.28,345.60 L19.86,345.60 L17.43,345.60 L15.00,345.60 L12.58,345.60 L10.15,345.60 L7.73,345.60 L5.30,345.60Z" fill="url(#g2)"/>
<path d="M5.30,336.76 L7.73,336.77 L10.15,336.79 L12.58,336.80 L15.00,336.81 L17.43,336.83 L19.86,336.84 L22.28,336.86 L24.71,336.87 L27.13,336.89 L29.56,336.90 L31.98,336.92 L34.41,336.94 L36.84,336.95 L39.26,336.97 L41.69,336.98 L44.11,337.00 L46.54,337.02 L48.97,337.04 L51.39,337.05 L53.82,337.07 L56.24,337.09 L58.67,337.11 L61.10,337.13 L63.52,337.15 L65.95,337.17 L68.37,337.19 L70.80,337.21 L73.23,337.24 L75.65,337.26 L78.08,337.29 L80.50,337.32 L82.93,337.35 L85.35,337.38 L87.78,337.40 L90.21,337.43 L92.63,337.46 L95.06,337.50 L97.48,337.53 L99.91,337.56 L102.34,337.59 L104.76,337.62 L107.19,337.65 L109.61,337.68 L112.04,337.71 L114.47,337.74 L116.89,337.77 L119.32,337.80 L121.74,337.83 L124.17,337.86 L126.59,337.89 L129.02,337.92 L131.45,337.94 L133.87,337.97 L136.30,337.99 L138.72,338.02 L141.15,338.04 L143.58,338.06 L146.00,338.08 L148.43,338.10 L150.85,338.12 L153.28,338.13 L155.71,338.15 L158.13,338.16 L160.56,338.17 L162.98,338.18 L165.41,338.19 L167.84,338.20 L170.26,338.20 L172.69,338.20 L175.11,338.20 L177.54,338.20 L179.96,338.20 L182.39,338.20 L184.82,338.20 L187.24,338.20 L189.67,338.19 L192.09,338.19 L194.52,338.19 L196.95,338.19 L199.37,338.19 L201.80,338.18 L204.22,338.18 L206.65,338.18 L209.08,338.18 L211.50,338.17 L213.93,338.17 L216.35,338.16 L218.78,338.16 L221.21,338.16 L223.63,338.15 L226.06,338.15 L228.48,338.14 L230.91,338.13 L233.33,338.13 L235.76,338.12 L238.19,338.12 L240.61,338.11 L243.04,338.10 L245.46,338.10 L247.89,338.09 L250.32,338.08 L252.74,338.07 L255.17,338.06 L257.59,338.06 L260.02,338.05 L262.45,338.04 L264.87,338.03 L267.30,338.02 L269.72,338.01 L272.15,338.00 L274.57,337.99 L277.00,337.98 L279.43,337.96 L281.85,337.95 L284.28,337.94 L286.70,337.93 L289.13,337.92 L291.56,337.90 L293.98,337.87 L296.41,337.84 L298.83,337.79 L301.26,337.74 L303.69,337.67 L306.11,337.60 L308.54,337.52 L310.96,337.44 L313.39,337.35 L315.82,337.25 L318.24,337.15 L320.67,337.04 L323.09,336.93 L325.52,336.82 L327.94,336.71 L330.37,336.59 L332.80,336.47 L335.22,336.36 L337.65,336.24 L340.07,336.12 L342.50,336.01" fill="none" stroke="url(#g3)" stroke-width="1.1"/>
<path d="M5.30,339.46 L7.73,339.47 L10.15,339.48 L12.58,339.49 L15.00,339.50 L17.43,339.51 L19.86,339.52 L22.28,339.53 L24.71,339.54 L27.13,339.56 L29.56,339.57 L31.98,339.58 L34.41,339.59 L36.84,339.61 L39.26,339.62 L41.69,339.63 L44.11,339.65 L46.54,339.66 L48.97,339.68 L51.39,339.69 L53.82,339.71 L56.24,339.72 L58.67,339.74 L61.10,339.76 L63.52,339.78 L65.95,339.80 L68.37,339.82 L70.80,339.84 L73.23,339.86 L75.65,339.88 L78.08,339.91 L80.50,339.94 L82.93,339.96 L85.35,339.99 L87.78,340.02 L90.21,340.05 L92.63,340.08 L95.06,340.11 L97.48,340.14 L99.91,340.17 L102.34,340.20 L104.76,340.23 L107.19,340.26 L109.61,340.29 L112.04,340.32 L114.47,340.35 L116.89,340.38 L119.32,340.41 L121.74,340.44 L124.17,340.46 L126.59,340.49 L129.02,340.52 L131.45,340.55 L133.87,340.57 L136.30,340.60 L138.72,340.62 L141.15,340.64 L143.58,340.66 L146.00,340.68 L148.43,340.70 L150.85,340.72 L153.28,340.73 L155.71,340.75 L158.13,340.76 L160.56,340.77 L162.98,340.78 L165.41,340.79 L167.84,340.80 L170.26,340.80 L172.69,340.80 L175.11,340.80 L177.54,340.80 L179.96,340.80 L182.39,340.80 L184.82,340.80 L187.24,340.80 L189.67,340.80 L192.09,340.80 L194.52,340.80 L196.95,340.80 L199.37,340.80 L201.80,340.80 L204.22,340.80 L206.65,340.80 L209.08,340.80 L211.50,340.80 L213.93,340.80 L216.35,340.79 L218.78,340.79 L221.21,340.79 L223.63,340.79 L226.06,340.79 L228.48,340.79 L230.91,340.79 L233.33,340.79 L235.76,340.78 L238.19,340.78 L240.61,340.78 L243.04,340.78 L245.46,340.78 L247.89,340.77 L250.32,340.77 L252.74,340.77 L255.17,340.77 L257.59,340.76 L260.02,340.76 L262.45,340.76 L264.87,340.75 L267.30,340.75 L269.72,340.74 L272.15,340.74 L274.57,340.74 L277.00,340.73 L279.43,340.73 L281.85,340.72 L284.28,340.72 L286.70,340.71 L289.13,340.71 L291.56,340.70 L293.98,340.68 L296.41,340.65 L298.83,340.61 L301.26,340.56 L303.69,340.51 L306.11,340.44 L308.54,340.37 L310.96,340.30 L313.39,340.21 L315.82,340.12 L318.24,340.03 L320.67,339.93 L323.09,339.83 L325.52,339.73 L327.94,339.62 L330.37,339.51 L332.80,339.40 L335.22,339.30 L337.65,339.19 L340.07,339.08 L342.50,338.97" fill="none" stroke="url(#g4)" stroke-width="1.1"/>
<path d="M5.30,342.06 L7.73,342.07 L10.15,342.07 L12.58,342.08 L15.00,342.09 L17.43,342.09 L19.86,342.10 L22.28,342.11 L24.71,342.11 L27.13,342.12 L29.56,342.13 L31.98,342.14 L34.41,342.15 L36.84,342.16 L39.26,342.17 L41.69,342.18 L44.11,342.19 L46.54,342.21 L48.97,342.22 L51.39,342.23 L53.82,342.24 L56.24,342.26 L58.67,342.27 L61.10,342.29 L63.52,342.30 L65.95,342.32 L68.37,342.34 L70.80,342.36 L73.23,342.38 L75.65,342.40 L78.08,342.43 L80.50,342.45 L82.93,342.48 L85.35,342.50 L87.78,342.53 L90.21,342.56 L92.63,342.59 L95.06,342.62 L97.48,342.64 L99.91,342.67 L102.34,342.70 L104.76,342.73 L107.19,342.76 L109.61,342.79 L112.04,342.82 L114.47,342.85 L116.89,342.88 L119.32,342.91 L121.74,342.94 L124.17,342.97 L126.59,342.99 L129.02,343.02 L131.45,343.05 L133.87,343.07 L136.30,343.10 L138.72,343.12 L141.15,343.14 L143.58,343.16 L146.00,343.18 L148.43,343.20 L150.85,343.22 L153.28,343.23 L155.71,343.25 L158.13,343.26 L160.56,343.27 L162.98,343.28 L165.41,343.29 L167.84,343.30 L170.26,343.30 L172.69,343.30 L175.11,343.30 L177.54,343.30 L179.96,343.30 L182.39,343.30 L184.82,343.30 L187.24,343.30 L189.67,343.30 L192.09,343.31 L194.52,343.31 L196.95,343.31 L199.37,343.31 L201.80,343.31 L204.22,343.31 L206.65,343.31 L209.08,343.32 L211.50,343.32 L213.93,343.32 L216.35,343.32 L218.78,343.33 L221.21,343.33 L223.63,343.33 L226.06,343.33 L228.48,343.34 L230.91,343.34 L233.33,343.34 L235.76,343.34 L238.19,343.35 L240.61,343.35 L243.04,343.35 L245.46,343.35 L247.89,343.36 L250.32,343.36 L252.74,343.36 L255.17,343.36 L257.59,343.36 L260.02,343.37 L262.45,343.37 L264.87,343.37 L267.30,343.37 L269.72,343.38 L272.15,343.38 L274.57,343.38 L277.00,343.38 L279.43,343.38 L281.85,343.38 L284.28,343.39 L286.70,343.39 L289.13,343.39 L291.56,343.39 L293.98,343.38 L296.41,343.35 L298.83,343.32 L301.26,343.28 L303.69,343.23 L306.11,343.18 L308.54,343.11 L310.96,343.04 L313.39,342.97 L315.82,342.89 L318.24,342.80 L320.67,342.71 L323.09,342.62 L325.52,342.52 L327.94,342.42 L330.37,342.32 L332.80,342.22 L335.22,342.12 L337.65,342.02 L340.07,341.92 L342.50,341.82" fill="none" stroke="url(#g5)" stroke-width="1.1"/>
<path d="M5.30,344.56 L7.73,344.56 L10.15,344.56 L12.58,344.56 L15.00,344.57 L17.43,344.57 L19.86,344.57 L22.28,344.58 L24.71,344.58 L27.13,344.59 L29.56,344.59 L31.98,344.60 L34.41,344.60 L36.84,344.61 L39.26,344.62 L41.69,344.63 L44.11,344.64 L46.54,344.65 L48.97,344.66 L51.39,344.67 L53.82,344.68 L56.24,344.69 L58.67,344.70 L61.10,344.72 L63.52,344.73 L65.95,344.75 L68.37,344.76 L70.80,344.78 L73.23,344.80 L75.65,344.82 L78.08,344.85 L80.50,344.87 L82.93,344.89 L85.35,344.92 L87.78,344.94 L90.21,344.97 L92.63,345.00 L95.06,345.03 L97.48,345.05 L99.91,345.08 L102.34,345.11 L104.76,345.14 L107.19,345.17 L109.61,345.20 L112.04,345.23 L114.47,345.26 L116.89,345.28 L119.32,345.31 L121.74,345.34 L124.17,345.37 L126.59,345.40 L129.02,345.42 L131.45,345.45 L133.87,345.47 L136.30,345.50 L138.72,345.52 L141.15,345.54 L143.58,345.56 L146.00,345.58 L148.43,345.60 L150.85,345.62 L153.28,345.64 L155.71,345.65 L158.13,345.66 L160.56,345.67 L162.98,345.68 L165.41,345.69 L167.84,345.70 L170.26,345.70 L172.69,345.70 L175.11,345.70 L177.54,345.70 L179.96,345.70 L182.39,345.70 L184.82,345.70 L187.24,345.71 L189.67,345.71 L192.09,345.71 L194.52,345.71 L196.95,345.72 L199.37,345.72 L201.80,345.72 L204.22,345.73 L206.65,345.73 L209.08,345.74 L211.50,345.74 L213.93,345.75 L216.35,345.75 L218.78,345.76 L221.21,345.76 L223.63,345.77 L226.06,345.77 L228.48,345.78 L230.91,345.79 L233.33,345.79 L235.76,345.80 L238.19,345.81 L240.61,345.81 L243.04,345.82 L245.46,345.83 L247.89,345.83 L250.32,345.84 L252.74,345.85 L255.17,345.86 L257.59,345.86 L260.02,345.87 L262.45,345.88 L264.87,345.89 L267.30,345.89 L269.72,345.90 L272.15,345.91 L274.57,345.92 L277.00,345.92 L279.43,345.93 L281.85,345.94 L284.28,345.95 L286.70,345.96 L289.13,345.96 L291.56,345.97 L293.98,345.96 L296.41,345.95 L298.83,345.92 L301.26,345.89 L303.69,345.85 L306.11,345.80 L308.54,345.74 L310.96,345.68 L313.39,345.61 L315.82,345.54 L318.24,345.46 L320.67,345.38 L323.09,345.29 L325.52,345.20 L327.94,345.11 L330.37,345.02 L332.80,344.93 L335.22,344.83 L337.65,344.74 L340.07,344.65 L342.50,344.56" fill="none" stroke="url(#g6)" stroke-width="1.1"/>
<path d="M5.30,335.60 L7.73,335.65 L10.15,335.70 L12.58,335.74 L15.00,335.78 L17.43,335.82 L19.86,335.85 L22.28,335.88 L24.71,335.91 L27.13,335.93 L29.56,335.95 L31.98,335.96 L34.41,335.98 L36.84,335.99 L39.26,335.99 L41.69,336.00 L44.11,336.00 L46.54,336.00 L48.97,335.99 L51.39,335.98 L53.82,335.96 L56.24,335.94 L58.67,335.91 L61.10,335.89 L63.52,335.84 L65.95,335.78 L68.37,335.71 L70.80,335.62 L73.23,335.52 L75.65,335.41 L78.08,335.30 L80.50,335.17 L82.93,335.02 L85.35,334.83 L87.78,334.60 L90.21,334.35 L92.63,334.08 L95.06,333.80 L97.48,333.51 L99.91,333.22 L102.34,332.94 L104.76,332.68 L107.19,332.44 L109.61,332.23 L112.04,332.04 L114.47,331.87 L116.89,331.70 L119.32,331.54 L121.74,331.38 L124.17,331.23 L126.59,331.08 L129.02,330.93 L131.45,330.79 L133.87,330.65 L136.30,330.51 L138.72,330.37 L141.15,330.23 L143.58,330.08 L146.00,329.91 L148.43,329.74 L150.85,329.57 L153.28,329.40 L155.71,329.24 L158.13,329.08 L160.56,328.94 L162.98,328.82 L165.41,328.72 L167.84,328.65 L170.26,328.61 L172.69,328.60 L175.11,328.61 L177.54,328.64 L179.96,328.68 L182.39,328.73 L184.82,328.79 L187.24,328.86 L189.67,328.94 L192.09,329.02 L194.52,329.10 L196.95,329.19 L199.37,329.28 L201.80,329.37 L204.22,329.48 L206.65,329.60 L209.08,329.74 L211.50,329.89 L213.93,330.06 L216.35,330.22 L218.78,330.40 L221.21,330.57 L223.63,330.75 L226.06,330.92 L228.48,331.10 L230.91,331.26 L233.33,331.43 L235.76,331.60 L238.19,331.77 L240.61,331.94 L243.04,332.11 L245.46,332.29 L247.89,332.47 L250.32,332.65 L252.74,332.84 L255.17,333.02 L257.59,333.21 L260.02,333.40 L262.45,333.60 L264.87,333.82 L267.30,334.06 L269.72,334.30 L272.15,334.54 L274.57,334.78 L277.00,335.02 L279.43,335.25 L281.85,335.46 L284.28,335.65 L286.70,335.82 L289.13,335.96 L291.56,336.07 L293.98,336.19 L296.41,336.29 L298.83,336.38 L301.26,336.45 L303.69,336.49 L306.11,336.50 L308.54,336.49 L310.96,336.47 L313.39,336.43 L315.82,336.38 L318.24,336.32 L320.67,336.24 L323.09,336.15 L325.52,336.05 L327.94,335.92 L330.37,335.78 L332.80,335.62 L335.22,335.45 L337.65,335.25 L340.07,335.04 L342.50,334.80" fill="none" stroke="url(#g7)" stroke-width="1.25"/>
<path d="M46.75,312.18 A35.6,35.6 0 0 1 9.58,335.40" fill="none" stroke="#999" stroke-width="0.7"/>
<path d="M337.73,335.71 A34.7,34.7 0 0 1 301.93,314.20" fill="none" stroke="#999" stroke-width="0.7"/>
<circle cx="7.5" cy="325.8" r="7.1" fill="#fff" stroke="#000" stroke-width="1.3"/><text x="7.5" y="329.90000000000003" text-anchor="middle" font-size="12" style="stroke-width:0.45px">2</text>
<path d="M5.30,375.30 L7.73,375.31 L10.15,375.33 L12.58,375.34 L15.00,375.36 L17.43,375.37 L19.86,375.39 L22.28,375.40 L24.71,375.42 L27.13,375.43 L29.56,375.44 L31.98,375.46 L34.41,375.47 L36.84,375.48 L39.26,375.50 L41.69,375.51 L44.11,375.52 L46.54,375.54 L48.97,375.55 L51.39,375.56 L53.82,375.57 L56.24,375.58 L58.67,375.59 L61.10,375.60 L63.52,375.62 L65.95,375.63 L68.37,375.64 L70.80,375.65 L73.23,375.66 L75.65,375.67 L78.08,375.68 L80.50,375.69 L82.93,375.70 L85.35,375.71 L87.78,375.72 L90.21,375.73 L92.63,375.74 L95.06,375.75 L97.48,375.76 L99.91,375.77 L102.34,375.78 L104.76,375.79 L107.19,375.80 L109.61,375.80 L112.04,375.81 L114.47,375.82 L116.89,375.83 L119.32,375.84 L121.74,375.85 L124.17,375.86 L126.59,375.87 L129.02,375.87 L131.45,375.88 L133.87,375.89 L136.30,375.90 L138.72,375.91 L141.15,375.91 L143.58,375.92 L146.00,375.93 L148.43,375.94 L150.85,375.94 L153.28,375.95 L155.71,375.96 L158.13,375.96 L160.56,375.97 L162.98,375.98 L165.41,375.98 L167.84,375.99 L170.26,375.99 L172.69,376.00 L175.11,376.00 L177.54,376.01 L179.96,376.02 L182.39,376.02 L184.82,376.03 L187.24,376.03 L189.67,376.04 L192.09,376.05 L194.52,376.05 L196.95,376.06 L199.37,376.06 L201.80,376.07 L204.22,376.07 L206.65,376.08 L209.08,376.09 L211.50,376.09 L213.93,376.10 L216.35,376.10 L218.78,376.11 L221.21,376.11 L223.63,376.12 L226.06,376.12 L228.48,376.13 L230.91,376.13 L233.33,376.14 L235.76,376.14 L238.19,376.15 L240.61,376.15 L243.04,376.16 L245.46,376.16 L247.89,376.16 L250.32,376.17 L252.74,376.17 L255.17,376.17 L257.59,376.18 L260.02,376.18 L262.45,376.18 L264.87,376.19 L267.30,376.19 L269.72,376.19 L272.15,376.19 L274.57,376.19 L277.00,376.20 L279.43,376.20 L281.85,376.20 L284.28,376.20 L286.70,376.20 L289.13,376.20 L291.56,376.20 L293.98,376.19 L296.41,376.19 L298.83,376.17 L301.26,376.16 L303.69,376.14 L306.11,376.12 L308.54,376.09 L310.96,376.07 L313.39,376.04 L315.82,376.01 L318.24,375.97 L320.67,375.94 L323.09,375.90 L325.52,375.87 L327.94,375.83 L330.37,375.79 L332.80,375.75 L335.22,375.72 L337.65,375.68 L340.07,375.64 L342.50,375.60 L342.50,380.80 L340.07,380.89 L337.65,380.98 L335.22,381.07 L332.80,381.17 L330.37,381.26 L327.94,381.35 L325.52,381.44 L323.09,381.53 L320.67,381.62 L318.24,381.70 L315.82,381.78 L313.39,381.86 L310.96,381.93 L308.54,382.00 L306.11,382.06 L303.69,382.12 L301.26,382.17 L298.83,382.21 L296.41,382.25 L293.98,382.27 L291.56,382.29 L289.13,382.30 L286.70,382.31 L284.28,382.32 L281.85,382.33 L279.43,382.34 L277.00,382.34 L274.57,382.35 L272.15,382.36 L269.72,382.37 L267.30,382.37 L264.87,382.38 L262.45,382.39 L260.02,382.39 L257.59,382.40 L255.17,382.41 L252.74,382.41 L250.32,382.42 L247.89,382.42 L245.46,382.43 L243.04,382.43 L240.61,382.44 L238.19,382.44 L235.76,382.45 L233.33,382.45 L230.91,382.45 L228.48,382.46 L226.06,382.46 L223.63,382.47 L221.21,382.47 L218.78,382.47 L216.35,382.47 L213.93,382.48 L211.50,382.48 L209.08,382.48 L206.65,382.48 L204.22,382.49 L201.80,382.49 L199.37,382.49 L196.95,382.49 L194.52,382.49 L192.09,382.50 L189.67,382.50 L187.24,382.50 L184.82,382.50 L182.39,382.50 L179.96,382.50 L177.54,382.50 L175.11,382.50 L172.69,382.50 L170.26,382.50 L167.84,382.50 L165.41,382.49 L162.98,382.49 L160.56,382.48 L158.13,382.47 L155.71,382.46 L153.28,382.45 L150.85,382.44 L148.43,382.42 L146.00,382.41 L143.58,382.39 L141.15,382.37 L138.72,382.36 L136.30,382.34 L133.87,382.32 L131.45,382.30 L129.02,382.28 L126.59,382.25 L124.17,382.23 L121.74,382.21 L119.32,382.19 L116.89,382.16 L114.47,382.14 L112.04,382.11 L109.61,382.09 L107.19,382.06 L104.76,382.04 L102.34,382.01 L99.91,381.98 L97.48,381.96 L95.06,381.93 L92.63,381.91 L90.21,381.88 L87.78,381.86 L85.35,381.83 L82.93,381.81 L80.50,381.78 L78.08,381.76 L75.65,381.74 L73.23,381.71 L70.80,381.69 L68.37,381.67 L65.95,381.65 L63.52,381.63 L61.10,381.61 L58.67,381.59 L56.24,381.57 L53.82,381.55 L51.39,381.54 L48.97,381.52 L46.54,381.50 L44.11,381.48 L41.69,381.46 L39.26,381.45 L36.84,381.43 L34.41,381.41 L31.98,381.39 L29.56,381.37 L27.13,381.36 L24.71,381.34 L22.28,381.32 L19.86,381.30 L17.43,381.29 L15.00,381.27 L12.58,381.25 L10.15,381.23 L7.73,381.22 L5.30,381.20Z" fill="url(#g8)"/>
<path d="M5.30,377.07 L7.73,377.09 L10.15,377.10 L12.58,377.12 L15.00,377.13 L17.43,377.15 L19.86,377.16 L22.28,377.18 L24.71,377.19 L27.13,377.21 L29.56,377.22 L31.98,377.24 L34.41,377.25 L36.84,377.27 L39.26,377.28 L41.69,377.30 L44.11,377.31 L46.54,377.32 L48.97,377.34 L51.39,377.35 L53.82,377.37 L56.24,377.38 L58.67,377.39 L61.10,377.41 L63.52,377.42 L65.95,377.43 L68.37,377.45 L70.80,377.46 L73.23,377.47 L75.65,377.49 L78.08,377.50 L80.50,377.52 L82.93,377.53 L85.35,377.55 L87.78,377.56 L90.21,377.57 L92.63,377.59 L95.06,377.60 L97.48,377.62 L99.91,377.63 L102.34,377.65 L104.76,377.66 L107.19,377.67 L109.61,377.69 L112.04,377.70 L114.47,377.72 L116.89,377.73 L119.32,377.74 L121.74,377.76 L124.17,377.77 L126.59,377.78 L129.02,377.79 L131.45,377.81 L133.87,377.82 L136.30,377.83 L138.72,377.84 L141.15,377.85 L143.58,377.86 L146.00,377.87 L148.43,377.88 L150.85,377.89 L153.28,377.90 L155.71,377.91 L158.13,377.91 L160.56,377.92 L162.98,377.93 L165.41,377.93 L167.84,377.94 L170.26,377.95 L172.69,377.95 L175.11,377.95 L177.54,377.96 L179.96,377.96 L182.39,377.97 L184.82,377.97 L187.24,377.97 L189.67,377.98 L192.09,377.98 L194.52,377.98 L196.95,377.99 L199.37,377.99 L201.80,377.99 L204.22,378.00 L206.65,378.00 L209.08,378.00 L211.50,378.01 L213.93,378.01 L216.35,378.01 L218.78,378.02 L221.21,378.02 L223.63,378.02 L226.06,378.02 L228.48,378.03 L230.91,378.03 L233.33,378.03 L235.76,378.03 L238.19,378.04 L240.61,378.04 L243.04,378.04 L245.46,378.04 L247.89,378.04 L250.32,378.04 L252.74,378.04 L255.17,378.04 L257.59,378.04 L260.02,378.04 L262.45,378.04 L264.87,378.04 L267.30,378.04 L269.72,378.04 L272.15,378.04 L274.57,378.04 L277.00,378.04 L279.43,378.04 L281.85,378.04 L284.28,378.04 L286.70,378.03 L289.13,378.03 L291.56,378.03 L293.98,378.02 L296.41,378.00 L298.83,377.98 L301.26,377.96 L303.69,377.93 L306.11,377.90 L308.54,377.87 L310.96,377.83 L313.39,377.78 L315.82,377.74 L318.24,377.69 L320.67,377.64 L323.09,377.59 L325.52,377.54 L327.94,377.49 L330.37,377.43 L332.80,377.38 L335.22,377.32 L337.65,377.27 L340.07,377.21 L342.50,377.16" fill="none" stroke="url(#g9)" stroke-width="1.05"/>
<path d="M5.30,379.67 L7.73,379.68 L10.15,379.70 L12.58,379.72 L15.00,379.73 L17.43,379.75 L19.86,379.77 L22.28,379.78 L24.71,379.80 L27.13,379.82 L29.56,379.83 L31.98,379.85 L34.41,379.87 L36.84,379.88 L39.26,379.90 L41.69,379.92 L44.11,379.93 L46.54,379.95 L48.97,379.97 L51.39,379.98 L53.82,380.00 L56.24,380.01 L58.67,380.03 L61.10,380.05 L63.52,380.06 L65.95,380.08 L68.37,380.10 L70.80,380.12 L73.23,380.14 L75.65,380.16 L78.08,380.18 L80.50,380.20 L82.93,380.22 L85.35,380.24 L87.78,380.26 L90.21,380.28 L92.63,380.30 L95.06,380.32 L97.48,380.35 L99.91,380.37 L102.34,380.39 L104.76,380.41 L107.19,380.43 L109.61,380.45 L112.04,380.47 L114.47,380.49 L116.89,380.52 L119.32,380.54 L121.74,380.56 L124.17,380.57 L126.59,380.59 L129.02,380.61 L131.45,380.63 L133.87,380.65 L136.30,380.66 L138.72,380.68 L141.15,380.69 L143.58,380.71 L146.00,380.72 L148.43,380.74 L150.85,380.75 L153.28,380.76 L155.71,380.77 L158.13,380.78 L160.56,380.79 L162.98,380.79 L165.41,380.80 L167.84,380.80 L170.26,380.81 L172.69,380.81 L175.11,380.81 L177.54,380.81 L179.96,380.81 L182.39,380.81 L184.82,380.82 L187.24,380.82 L189.67,380.82 L192.09,380.82 L194.52,380.82 L196.95,380.82 L199.37,380.82 L201.80,380.82 L204.22,380.82 L206.65,380.82 L209.08,380.82 L211.50,380.82 L213.93,380.82 L216.35,380.82 L218.78,380.82 L221.21,380.82 L223.63,380.81 L226.06,380.81 L228.48,380.81 L230.91,380.81 L233.33,380.81 L235.76,380.81 L238.19,380.80 L240.61,380.80 L243.04,380.80 L245.46,380.80 L247.89,380.79 L250.32,380.79 L252.74,380.79 L255.17,380.79 L257.59,380.78 L260.02,380.78 L262.45,380.77 L264.87,380.77 L267.30,380.77 L269.72,380.76 L272.15,380.76 L274.57,380.75 L277.00,380.75 L279.43,380.74 L281.85,380.73 L284.28,380.73 L286.70,380.72 L289.13,380.72 L291.56,380.71 L293.98,380.69 L296.41,380.67 L298.83,380.64 L301.26,380.61 L303.69,380.56 L306.11,380.52 L308.54,380.46 L310.96,380.41 L313.39,380.35 L315.82,380.28 L318.24,380.21 L320.67,380.14 L323.09,380.07 L325.52,379.99 L327.94,379.92 L330.37,379.84 L332.80,379.76 L335.22,379.68 L337.65,379.60 L340.07,379.52 L342.50,379.45" fill="none" stroke="url(#g10)" stroke-width="1.05"/>
<path d="M5.30,375.54 L7.73,375.55 L10.15,375.57 L12.58,375.58 L15.00,375.60 L17.43,375.61 L19.86,375.62 L22.28,375.64 L24.71,375.65 L27.13,375.67 L29.56,375.68 L31.98,375.70 L34.41,375.71 L36.84,375.72 L39.26,375.74 L41.69,375.75 L44.11,375.76 L46.54,375.77 L48.97,375.79 L51.39,375.80 L53.82,375.81 L56.24,375.82 L58.67,375.83 L61.10,375.84 L63.52,375.86 L65.95,375.87 L68.37,375.88 L70.80,375.89 L73.23,375.90 L75.65,375.91 L78.08,375.92 L80.50,375.93 L82.93,375.94 L85.35,375.95 L87.78,375.96 L90.21,375.97 L92.63,375.98 L95.06,376.00 L97.48,376.01 L99.91,376.02 L102.34,376.03 L104.76,376.04 L107.19,376.05 L109.61,376.06 L112.04,376.07 L114.47,376.07 L116.89,376.08 L119.32,376.09 L121.74,376.10 L124.17,376.11 L126.59,376.12 L129.02,376.13 L131.45,376.14 L133.87,376.15 L136.30,376.16 L138.72,376.16 L141.15,376.17 L143.58,376.18 L146.00,376.19 L148.43,376.19 L150.85,376.20 L153.28,376.21 L155.71,376.22 L158.13,376.22 L160.56,376.23 L162.98,376.24 L165.41,376.24 L167.84,376.25 L170.26,376.25 L172.69,376.26 L175.11,376.26 L177.54,376.27 L179.96,376.28 L182.39,376.28 L184.82,376.29 L187.24,376.29 L189.67,376.30 L192.09,376.30 L194.52,376.31 L196.95,376.31 L199.37,376.32 L201.80,376.33 L204.22,376.33 L206.65,376.34 L209.08,376.34 L211.50,376.35 L213.93,376.35 L216.35,376.36 L218.78,376.36 L221.21,376.37 L223.63,376.37 L226.06,376.38 L228.48,376.38 L230.91,376.39 L233.33,376.39 L235.76,376.39 L238.19,376.40 L240.61,376.40 L243.04,376.41 L245.46,376.41 L247.89,376.41 L250.32,376.42 L252.74,376.42 L255.17,376.42 L257.59,376.43 L260.02,376.43 L262.45,376.43 L264.87,376.43 L267.30,376.44 L269.72,376.44 L272.15,376.44 L274.57,376.44 L277.00,376.44 L279.43,376.44 L281.85,376.44 L284.28,376.44 L286.70,376.44 L289.13,376.44 L291.56,376.44 L293.98,376.44 L296.41,376.43 L298.83,376.42 L301.26,376.40 L303.69,376.38 L306.11,376.36 L308.54,376.33 L310.96,376.30 L313.39,376.27 L315.82,376.24 L318.24,376.20 L320.67,376.17 L323.09,376.13 L325.52,376.09 L327.94,376.05 L330.37,376.01 L332.80,375.97 L335.22,375.93 L337.65,375.89 L340.07,375.85 L342.50,375.81" fill="none" stroke="url(#g11)" stroke-width="1.0"/>
<path d="M5.30,380.96 L7.73,380.98 L10.15,381.00 L12.58,381.02 L15.00,381.03 L17.43,381.05 L19.86,381.07 L22.28,381.08 L24.71,381.10 L27.13,381.12 L29.56,381.14 L31.98,381.15 L34.41,381.17 L36.84,381.19 L39.26,381.21 L41.69,381.22 L44.11,381.24 L46.54,381.26 L48.97,381.28 L51.39,381.30 L53.82,381.31 L56.24,381.33 L58.67,381.35 L61.10,381.37 L63.52,381.39 L65.95,381.41 L68.37,381.43 L70.80,381.45 L73.23,381.47 L75.65,381.49 L78.08,381.52 L80.50,381.54 L82.93,381.56 L85.35,381.59 L87.78,381.61 L90.21,381.64 L92.63,381.66 L95.06,381.69 L97.48,381.71 L99.91,381.74 L102.34,381.76 L104.76,381.79 L107.19,381.81 L109.61,381.84 L112.04,381.86 L114.47,381.88 L116.89,381.91 L119.32,381.93 L121.74,381.95 L124.17,381.98 L126.59,382.00 L129.02,382.02 L131.45,382.04 L133.87,382.06 L136.30,382.08 L138.72,382.10 L141.15,382.12 L143.58,382.13 L146.00,382.15 L148.43,382.16 L150.85,382.18 L153.28,382.19 L155.71,382.20 L158.13,382.21 L160.56,382.22 L162.98,382.23 L165.41,382.23 L167.84,382.24 L170.26,382.24 L172.69,382.24 L175.11,382.24 L177.54,382.24 L179.96,382.24 L182.39,382.24 L184.82,382.24 L187.24,382.24 L189.67,382.24 L192.09,382.24 L194.52,382.24 L196.95,382.24 L199.37,382.23 L201.80,382.23 L204.22,382.23 L206.65,382.23 L209.08,382.23 L211.50,382.22 L213.93,382.22 L216.35,382.22 L218.78,382.22 L221.21,382.21 L223.63,382.21 L226.06,382.21 L228.48,382.20 L230.91,382.20 L233.33,382.20 L235.76,382.19 L238.19,382.19 L240.61,382.19 L243.04,382.18 L245.46,382.18 L247.89,382.17 L250.32,382.17 L252.74,382.16 L255.17,382.16 L257.59,382.15 L260.02,382.14 L262.45,382.14 L264.87,382.13 L267.30,382.13 L269.72,382.12 L272.15,382.11 L274.57,382.11 L277.00,382.10 L279.43,382.09 L281.85,382.08 L284.28,382.08 L286.70,382.07 L289.13,382.06 L291.56,382.05 L293.98,382.03 L296.41,382.00 L298.83,381.97 L301.26,381.93 L303.69,381.88 L306.11,381.82 L308.54,381.76 L310.96,381.70 L313.39,381.63 L315.82,381.55 L318.24,381.47 L320.67,381.39 L323.09,381.31 L325.52,381.22 L327.94,381.13 L330.37,381.04 L332.80,380.95 L335.22,380.86 L337.65,380.77 L340.07,380.68 L342.50,380.59" fill="none" stroke="url(#g12)" stroke-width="1.0"/>
<path d="M5.30,370.40 L7.73,370.40 L10.15,370.40 L12.58,370.40 L15.00,370.40 L17.43,370.40 L19.86,370.40 L22.28,370.40 L24.71,370.40 L27.13,370.40 L29.56,370.40 L31.98,370.40 L34.41,370.40 L36.84,370.40 L39.26,370.40 L41.69,370.40 L44.11,370.40 L46.54,370.40 L48.97,370.40 L51.39,370.40 L53.82,370.40 L56.24,370.39 L58.67,370.35 L61.10,370.27 L63.52,370.16 L65.95,370.02 L68.37,369.87 L70.80,369.70 L73.23,369.53 L75.65,369.35 L78.08,369.12 L80.50,368.83 L82.93,368.50 L85.35,368.15 L87.78,367.80 L90.21,367.48 L92.63,367.21 L95.06,367.00 L97.48,366.84 L99.91,366.70 L102.34,366.59 L104.76,366.48 L107.19,366.38 L109.61,366.27 L112.04,366.16 L114.47,366.03 L116.89,365.88 L119.32,365.72 L121.74,365.55 L124.17,365.38 L126.59,365.19 L129.02,365.02 L131.45,364.84 L133.87,364.67 L136.30,364.52 L138.72,364.35 L141.15,364.17 L143.58,363.99 L146.00,363.80 L148.43,363.62 L150.85,363.43 L153.28,363.25 L155.71,363.08 L158.13,362.92 L160.56,362.77 L162.98,362.64 L165.41,362.52 L167.84,362.43 L170.26,362.36 L172.69,362.31 L175.11,362.30 L177.54,362.31 L179.96,362.34 L182.39,362.38 L184.82,362.44 L187.24,362.51 L189.67,362.60 L192.09,362.70 L194.52,362.80 L196.95,362.91 L199.37,363.03 L201.80,363.16 L204.22,363.29 L206.65,363.42 L209.08,363.55 L211.50,363.69 L213.93,363.85 L216.35,364.05 L218.78,364.27 L221.21,364.50 L223.63,364.75 L226.06,365.01 L228.48,365.28 L230.91,365.55 L233.33,365.81 L235.76,366.07 L238.19,366.32 L240.61,366.56 L243.04,366.79 L245.46,367.03 L247.89,367.28 L250.32,367.52 L252.74,367.77 L255.17,368.01 L257.59,368.24 L260.02,368.47 L262.45,368.69 L264.87,368.90 L267.30,369.10 L269.72,369.28 L272.15,369.45 L274.57,369.63 L277.00,369.81 L279.43,369.99 L281.85,370.17 L284.28,370.33 L286.70,370.49 L289.13,370.63 L291.56,370.75 L293.98,370.86 L296.41,370.93 L298.83,370.99 L301.26,371.01 L303.69,371.03 L306.11,371.05 L308.54,371.07 L310.96,371.09 L313.39,371.10 L315.82,371.12 L318.24,371.13 L320.67,371.15 L323.09,371.16 L325.52,371.17 L327.94,371.18 L330.37,371.18 L332.80,371.19 L335.22,371.19 L337.65,371.20 L340.07,371.20 L342.50,371.20 L342.50,376.10 L340.07,376.10 L337.65,376.10 L335.22,376.09 L332.80,376.09 L330.37,376.08 L327.94,376.08 L325.52,376.07 L323.09,376.06 L320.67,376.05 L318.24,376.03 L315.82,376.02 L313.39,376.00 L310.96,375.99 L308.54,375.97 L306.11,375.95 L303.69,375.93 L301.26,375.91 L298.83,375.89 L296.41,375.84 L293.98,375.77 L291.56,375.69 L289.13,375.58 L286.70,375.47 L284.28,375.34 L281.85,375.21 L279.43,375.07 L277.00,374.93 L274.57,374.79 L272.15,374.66 L269.72,374.53 L267.30,374.39 L264.87,374.24 L262.45,374.08 L260.02,373.91 L257.59,373.73 L255.17,373.54 L252.74,373.35 L250.32,373.15 L247.89,372.95 L245.46,372.75 L243.04,372.55 L240.61,372.35 L238.19,372.15 L235.76,371.94 L233.33,371.72 L230.91,371.49 L228.48,371.27 L226.06,371.04 L223.63,370.83 L221.21,370.62 L218.78,370.43 L216.35,370.26 L213.93,370.11 L211.50,369.98 L209.08,369.89 L206.65,369.80 L204.22,369.71 L201.80,369.62 L199.37,369.53 L196.95,369.45 L194.52,369.37 L192.09,369.29 L189.67,369.22 L187.24,369.16 L184.82,369.10 L182.39,369.06 L179.96,369.03 L177.54,369.01 L175.11,369.00 L172.69,369.01 L170.26,369.05 L167.84,369.11 L165.41,369.18 L162.98,369.28 L160.56,369.38 L158.13,369.50 L155.71,369.63 L153.28,369.77 L150.85,369.91 L148.43,370.06 L146.00,370.20 L143.58,370.34 L141.15,370.48 L138.72,370.61 L136.30,370.73 L133.87,370.84 L131.45,370.95 L129.02,371.08 L126.59,371.21 L124.17,371.34 L121.74,371.48 L119.32,371.60 L116.89,371.72 L114.47,371.82 L112.04,371.90 L109.61,371.97 L107.19,372.02 L104.76,372.07 L102.34,372.11 L99.91,372.17 L97.48,372.24 L95.06,372.33 L92.63,372.48 L90.21,372.69 L87.78,372.95 L85.35,373.23 L82.93,373.52 L80.50,373.79 L78.08,374.02 L75.65,374.20 L73.23,374.33 L70.80,374.45 L68.37,374.58 L65.95,374.70 L63.52,374.81 L61.10,374.89 L58.67,374.96 L56.24,375.00 L53.82,375.00 L51.39,375.00 L48.97,375.00 L46.54,375.00 L44.11,375.00 L41.69,375.01 L39.26,375.01 L36.84,375.02 L34.41,375.02 L31.98,375.03 L29.56,375.04 L27.13,375.05 L24.71,375.07 L22.28,375.09 L19.86,375.11 L17.43,375.13 L15.00,375.16 L12.58,375.19 L10.15,375.22 L7.73,375.26 L5.30,375.30Z" fill="url(#g13)"/>
<path d="M5.30,371.23 L7.73,371.23 L10.15,371.22 L12.58,371.21 L15.00,371.21 L17.43,371.20 L19.86,371.20 L22.28,371.20 L24.71,371.19 L27.13,371.19 L29.56,371.19 L31.98,371.19 L34.41,371.19 L36.84,371.18 L39.26,371.18 L41.69,371.18 L44.11,371.18 L46.54,371.18 L48.97,371.18 L51.39,371.18 L53.82,371.18 L56.24,371.18 L58.67,371.13 L61.10,371.06 L63.52,370.95 L65.95,370.82 L68.37,370.67 L70.80,370.51 L73.23,370.34 L75.65,370.18 L78.08,369.95 L80.50,369.67 L82.93,369.35 L85.35,369.01 L87.78,368.68 L90.21,368.37 L92.63,368.10 L95.06,367.90 L97.48,367.76 L99.91,367.63 L102.34,367.53 L104.76,367.43 L107.19,367.34 L109.61,367.24 L112.04,367.14 L114.47,367.02 L116.89,366.88 L119.32,366.72 L121.74,366.56 L124.17,366.39 L126.59,366.22 L129.02,366.05 L131.45,365.88 L133.87,365.72 L136.30,365.57 L138.72,365.41 L141.15,365.24 L143.58,365.07 L146.00,364.89 L148.43,364.71 L150.85,364.54 L153.28,364.36 L155.71,364.20 L158.13,364.04 L160.56,363.89 L162.98,363.77 L165.41,363.65 L167.84,363.56 L170.26,363.49 L172.69,363.45 L175.11,363.44 L177.54,363.45 L179.96,363.48 L182.39,363.52 L184.82,363.57 L187.24,363.64 L189.67,363.73 L192.09,363.82 L194.52,363.92 L196.95,364.02 L199.37,364.14 L201.80,364.26 L204.22,364.38 L206.65,364.50 L209.08,364.63 L211.50,364.76 L213.93,364.92 L216.35,365.10 L218.78,365.31 L221.21,365.54 L223.63,365.78 L226.06,366.04 L228.48,366.30 L230.91,366.56 L233.33,366.82 L235.76,367.07 L238.19,367.31 L240.61,367.54 L243.04,367.77 L245.46,368.01 L247.89,368.24 L250.32,368.48 L252.74,368.72 L255.17,368.95 L257.59,369.18 L260.02,369.40 L262.45,369.61 L264.87,369.81 L267.30,370.00 L269.72,370.17 L272.15,370.34 L274.57,370.51 L277.00,370.68 L279.43,370.86 L281.85,371.02 L284.28,371.18 L286.70,371.33 L289.13,371.47 L291.56,371.59 L293.98,371.69 L296.41,371.77 L298.83,371.82 L301.26,371.84 L303.69,371.87 L306.11,371.89 L308.54,371.90 L310.96,371.92 L313.39,371.94 L315.82,371.95 L318.24,371.97 L320.67,371.98 L323.09,371.99 L325.52,372.00 L327.94,372.01 L330.37,372.02 L332.80,372.02 L335.22,372.03 L337.65,372.03 L340.07,372.03 L342.50,372.03" fill="none" stroke="url(#g14)" stroke-width="1.05"/>
<path d="M5.30,374.56 L7.73,374.53 L10.15,374.50 L12.58,374.47 L15.00,374.44 L17.43,374.42 L19.86,374.40 L22.28,374.38 L24.71,374.37 L27.13,374.36 L29.56,374.35 L31.98,374.34 L34.41,374.33 L36.84,374.32 L39.26,374.32 L41.69,374.32 L44.11,374.31 L46.54,374.31 L48.97,374.31 L51.39,374.31 L53.82,374.31 L56.24,374.30 L58.67,374.27 L61.10,374.20 L63.52,374.11 L65.95,374.00 L68.37,373.87 L70.80,373.74 L73.23,373.61 L75.65,373.47 L78.08,373.29 L80.50,373.04 L82.93,372.76 L85.35,372.47 L87.78,372.18 L90.21,371.91 L92.63,371.69 L95.06,371.53 L97.48,371.43 L99.91,371.35 L102.34,371.28 L104.76,371.23 L107.19,371.17 L109.61,371.11 L112.04,371.04 L114.47,370.95 L116.89,370.84 L119.32,370.72 L121.74,370.59 L124.17,370.45 L126.59,370.31 L129.02,370.17 L131.45,370.04 L133.87,369.91 L136.30,369.80 L138.72,369.67 L141.15,369.53 L143.58,369.39 L146.00,369.24 L148.43,369.09 L150.85,368.94 L153.28,368.79 L155.71,368.65 L158.13,368.52 L160.56,368.39 L162.98,368.28 L165.41,368.18 L167.84,368.10 L170.26,368.04 L172.69,368.01 L175.11,368.00 L177.54,368.00 L179.96,368.02 L182.39,368.06 L184.82,368.11 L187.24,368.16 L189.67,368.23 L192.09,368.30 L194.52,368.38 L196.95,368.47 L199.37,368.56 L201.80,368.65 L204.22,368.75 L206.65,368.84 L209.08,368.94 L211.50,369.04 L213.93,369.17 L216.35,369.33 L218.78,369.50 L221.21,369.70 L223.63,369.91 L226.06,370.14 L228.48,370.37 L230.91,370.60 L233.33,370.83 L235.76,371.06 L238.19,371.28 L240.61,371.48 L243.04,371.68 L245.46,371.89 L247.89,372.10 L250.32,372.31 L252.74,372.51 L255.17,372.71 L257.59,372.91 L260.02,373.10 L262.45,373.27 L264.87,373.44 L267.30,373.60 L269.72,373.74 L272.15,373.88 L274.57,374.02 L277.00,374.16 L279.43,374.31 L281.85,374.45 L284.28,374.59 L286.70,374.72 L289.13,374.84 L291.56,374.95 L293.98,375.04 L296.41,375.10 L298.83,375.15 L301.26,375.18 L303.69,375.20 L306.11,375.22 L308.54,375.24 L310.96,375.25 L313.39,375.27 L315.82,375.28 L318.24,375.30 L320.67,375.31 L323.09,375.32 L325.52,375.33 L327.94,375.34 L330.37,375.35 L332.80,375.35 L335.22,375.36 L337.65,375.36 L340.07,375.36 L342.50,375.36" fill="none" stroke="url(#g15)" stroke-width="1.05"/>
<path d="M5.30,372.46 L7.73,372.44 L10.15,372.43 L12.58,372.41 L15.00,372.40 L17.43,372.39 L19.86,372.38 L22.28,372.37 L24.71,372.36 L27.13,372.36 L29.56,372.35 L31.98,372.35 L34.41,372.34 L36.84,372.34 L39.26,372.34 L41.69,372.33 L44.11,372.33 L46.54,372.33 L48.97,372.33 L51.39,372.33 L53.82,372.33 L56.24,372.33 L58.67,372.29 L61.10,372.21 L63.52,372.11 L65.95,371.99 L68.37,371.85 L70.80,371.70 L73.23,371.54 L75.65,371.39 L78.08,371.18 L80.50,370.91 L82.93,370.61 L85.35,370.28 L87.78,369.96 L90.21,369.67 L92.63,369.42 L95.06,369.24 L97.48,369.11 L99.91,369.00 L102.34,368.91 L104.76,368.83 L107.19,368.75 L109.61,368.66 L112.04,368.57 L114.47,368.46 L116.89,368.33 L119.32,368.19 L121.74,368.04 L124.17,367.88 L126.59,367.72 L129.02,367.56 L131.45,367.41 L133.87,367.26 L136.30,367.12 L138.72,366.98 L141.15,366.82 L143.58,366.66 L146.00,366.49 L148.43,366.32 L150.85,366.16 L153.28,365.99 L155.71,365.83 L158.13,365.69 L160.56,365.55 L162.98,365.43 L165.41,365.32 L167.84,365.23 L170.26,365.17 L172.69,365.13 L175.11,365.11 L177.54,365.12 L179.96,365.15 L182.39,365.19 L184.82,365.24 L187.24,365.30 L189.67,365.38 L192.09,365.46 L194.52,365.56 L196.95,365.66 L199.37,365.76 L201.80,365.87 L204.22,365.98 L206.65,366.10 L209.08,366.21 L211.50,366.33 L213.93,366.48 L216.35,366.66 L218.78,366.85 L221.21,367.07 L223.63,367.30 L226.06,367.54 L228.48,367.79 L230.91,368.04 L233.33,368.29 L235.76,368.54 L238.19,368.77 L240.61,368.99 L243.04,369.21 L245.46,369.43 L247.89,369.66 L250.32,369.89 L252.74,370.11 L255.17,370.33 L257.59,370.55 L260.02,370.76 L262.45,370.96 L264.87,371.15 L267.30,371.32 L269.72,371.48 L272.15,371.64 L274.57,371.80 L277.00,371.96 L279.43,372.12 L281.85,372.28 L284.28,372.44 L286.70,372.58 L289.13,372.71 L291.56,372.82 L293.98,372.92 L296.41,372.99 L298.83,373.04 L301.26,373.07 L303.69,373.09 L306.11,373.11 L308.54,373.13 L310.96,373.15 L313.39,373.16 L315.82,373.18 L318.24,373.19 L320.67,373.20 L323.09,373.21 L325.52,373.22 L327.94,373.23 L330.37,373.24 L332.80,373.25 L335.22,373.25 L337.65,373.26 L340.07,373.26 L342.50,373.26" fill="none" stroke="url(#g16)" stroke-width="1.1"/>
<path d="M46.75,347.38 A35.6,35.6 0 0 1 9.58,370.60" fill="none" stroke="#999" stroke-width="0.7"/>
<path d="M337.73,370.91 A34.7,34.7 0 0 1 301.93,349.40" fill="none" stroke="#999" stroke-width="0.7"/>
<circle cx="7.5" cy="360.8" r="7.1" fill="#fff" stroke="#000" stroke-width="1.3"/><text x="7.5" y="364.90000000000003" text-anchor="middle" font-size="12" style="stroke-width:0.45px">3</text>
<path d="M5.30,412.90 L7.73,412.91 L10.15,412.93 L12.58,412.94 L15.00,412.95 L17.43,412.96 L19.86,412.98 L22.28,412.99 L24.71,413.00 L27.13,413.02 L29.56,413.03 L31.98,413.04 L34.41,413.06 L36.84,413.07 L39.26,413.08 L41.69,413.10 L44.11,413.11 L46.54,413.12 L48.97,413.14 L51.39,413.15 L53.82,413.16 L56.24,413.18 L58.67,413.19 L61.10,413.21 L63.52,413.22 L65.95,413.24 L68.37,413.25 L70.80,413.27 L73.23,413.29 L75.65,413.30 L78.08,413.32 L80.50,413.34 L82.93,413.36 L85.35,413.38 L87.78,413.40 L90.21,413.42 L92.63,413.44 L95.06,413.46 L97.48,413.48 L99.91,413.50 L102.34,413.52 L104.76,413.54 L107.19,413.56 L109.61,413.58 L112.04,413.60 L114.47,413.62 L116.89,413.63 L119.32,413.65 L121.74,413.67 L124.17,413.69 L126.59,413.71 L129.02,413.72 L131.45,413.74 L133.87,413.76 L136.30,413.77 L138.72,413.79 L141.15,413.80 L143.58,413.82 L146.00,413.83 L148.43,413.84 L150.85,413.85 L153.28,413.86 L155.71,413.87 L158.13,413.88 L160.56,413.88 L162.98,413.89 L165.41,413.89 L167.84,413.90 L170.26,413.90 L172.69,413.90 L175.11,413.90 L177.54,413.90 L179.96,413.90 L182.39,413.90 L184.82,413.90 L187.24,413.89 L189.67,413.89 L192.09,413.89 L194.52,413.89 L196.95,413.88 L199.37,413.88 L201.80,413.87 L204.22,413.87 L206.65,413.87 L209.08,413.86 L211.50,413.86 L213.93,413.85 L216.35,413.84 L218.78,413.84 L221.21,413.83 L223.63,413.83 L226.06,413.82 L228.48,413.81 L230.91,413.81 L233.33,413.80 L235.76,413.79 L238.19,413.78 L240.61,413.78 L243.04,413.77 L245.46,413.76 L247.89,413.75 L250.32,413.74 L252.74,413.74 L255.17,413.73 L257.59,413.72 L260.02,413.71 L262.45,413.70 L264.87,413.69 L267.30,413.68 L269.72,413.68 L272.15,413.67 L274.57,413.66 L277.00,413.65 L279.43,413.64 L281.85,413.63 L284.28,413.62 L286.70,413.61 L289.13,413.60 L291.56,413.59 L293.98,413.58 L296.41,413.57 L298.83,413.56 L301.26,413.55 L303.69,413.54 L306.11,413.53 L308.54,413.51 L310.96,413.50 L313.39,413.49 L315.82,413.47 L318.24,413.46 L320.67,413.44 L323.09,413.43 L325.52,413.41 L327.94,413.40 L330.37,413.38 L332.80,413.36 L335.22,413.35 L337.65,413.33 L340.07,413.32 L342.50,413.30 L342.50,417.00 L340.07,417.02 L337.65,417.05 L335.22,417.07 L332.80,417.10 L330.37,417.12 L327.94,417.14 L325.52,417.17 L323.09,417.19 L320.67,417.21 L318.24,417.24 L315.82,417.26 L313.39,417.28 L310.96,417.30 L308.54,417.31 L306.11,417.33 L303.69,417.35 L301.26,417.36 L298.83,417.37 L296.41,417.38 L293.98,417.39 L291.56,417.40 L289.13,417.40 L286.70,417.41 L284.28,417.41 L281.85,417.41 L279.43,417.42 L277.00,417.42 L274.57,417.42 L272.15,417.43 L269.72,417.43 L267.30,417.44 L264.87,417.44 L262.45,417.44 L260.02,417.44 L257.59,417.45 L255.17,417.45 L252.74,417.45 L250.32,417.46 L247.89,417.46 L245.46,417.46 L243.04,417.46 L240.61,417.47 L238.19,417.47 L235.76,417.47 L233.33,417.47 L230.91,417.48 L228.48,417.48 L226.06,417.48 L223.63,417.48 L221.21,417.48 L218.78,417.48 L216.35,417.49 L213.93,417.49 L211.50,417.49 L209.08,417.49 L206.65,417.49 L204.22,417.49 L201.80,417.49 L199.37,417.49 L196.95,417.50 L194.52,417.50 L192.09,417.50 L189.67,417.50 L187.24,417.50 L184.82,417.50 L182.39,417.50 L179.96,417.50 L177.54,417.50 L175.11,417.50 L172.69,417.50 L170.26,417.50 L167.84,417.50 L165.41,417.50 L162.98,417.49 L160.56,417.49 L158.13,417.48 L155.71,417.48 L153.28,417.47 L150.85,417.47 L148.43,417.46 L146.00,417.45 L143.58,417.44 L141.15,417.43 L138.72,417.42 L136.30,417.41 L133.87,417.40 L131.45,417.39 L129.02,417.38 L126.59,417.36 L124.17,417.35 L121.74,417.34 L119.32,417.32 L116.89,417.31 L114.47,417.29 L112.04,417.28 L109.61,417.26 L107.19,417.25 L104.76,417.23 L102.34,417.21 L99.91,417.20 L97.48,417.18 L95.06,417.16 L92.63,417.14 L90.21,417.13 L87.78,417.11 L85.35,417.09 L82.93,417.07 L80.50,417.05 L78.08,417.04 L75.65,417.02 L73.23,417.00 L70.80,416.98 L68.37,416.96 L65.95,416.94 L63.52,416.93 L61.10,416.91 L58.67,416.89 L56.24,416.87 L53.82,416.85 L51.39,416.83 L48.97,416.81 L46.54,416.78 L44.11,416.76 L41.69,416.74 L39.26,416.71 L36.84,416.68 L34.41,416.66 L31.98,416.63 L29.56,416.60 L27.13,416.57 L24.71,416.54 L22.28,416.51 L19.86,416.48 L17.43,416.45 L15.00,416.42 L12.58,416.39 L10.15,416.36 L7.73,416.33 L5.30,416.30Z" fill="url(#g17)"/>
<path d="M5.30,413.31 L7.73,413.32 L10.15,413.34 L12.58,413.35 L15.00,413.37 L17.43,413.38 L19.86,413.40 L22.28,413.41 L24.71,413.43 L27.13,413.44 L29.56,413.46 L31.98,413.47 L34.41,413.49 L36.84,413.50 L39.26,413.52 L41.69,413.53 L44.11,413.55 L46.54,413.56 L48.97,413.58 L51.39,413.59 L53.82,413.61 L56.24,413.62 L58.67,413.64 L61.10,413.65 L63.52,413.67 L65.95,413.68 L68.37,413.70 L70.80,413.71 L73.23,413.73 L75.65,413.75 L78.08,413.77 L80.50,413.79 L82.93,413.80 L85.35,413.82 L87.78,413.84 L90.21,413.86 L92.63,413.88 L95.06,413.90 L97.48,413.92 L99.91,413.94 L102.34,413.96 L104.76,413.98 L107.19,414.00 L109.61,414.02 L112.04,414.04 L114.47,414.06 L116.89,414.08 L119.32,414.09 L121.74,414.11 L124.17,414.13 L126.59,414.15 L129.02,414.16 L131.45,414.18 L133.87,414.19 L136.30,414.21 L138.72,414.22 L141.15,414.24 L143.58,414.25 L146.00,414.26 L148.43,414.27 L150.85,414.28 L153.28,414.29 L155.71,414.30 L158.13,414.31 L160.56,414.32 L162.98,414.32 L165.41,414.33 L167.84,414.33 L170.26,414.33 L172.69,414.33 L175.11,414.33 L177.54,414.33 L179.96,414.33 L182.39,414.33 L184.82,414.33 L187.24,414.33 L189.67,414.32 L192.09,414.32 L194.52,414.32 L196.95,414.32 L199.37,414.31 L201.80,414.31 L204.22,414.30 L206.65,414.30 L209.08,414.30 L211.50,414.29 L213.93,414.29 L216.35,414.28 L218.78,414.28 L221.21,414.27 L223.63,414.26 L226.06,414.26 L228.48,414.25 L230.91,414.25 L233.33,414.24 L235.76,414.23 L238.19,414.23 L240.61,414.22 L243.04,414.21 L245.46,414.20 L247.89,414.20 L250.32,414.19 L252.74,414.18 L255.17,414.17 L257.59,414.17 L260.02,414.16 L262.45,414.15 L264.87,414.14 L267.30,414.13 L269.72,414.13 L272.15,414.12 L274.57,414.11 L277.00,414.10 L279.43,414.09 L281.85,414.08 L284.28,414.08 L286.70,414.07 L289.13,414.06 L291.56,414.05 L293.98,414.04 L296.41,414.03 L298.83,414.02 L301.26,414.01 L303.69,414.00 L306.11,413.98 L308.54,413.97 L310.96,413.96 L313.39,413.94 L315.82,413.93 L318.24,413.91 L320.67,413.90 L323.09,413.88 L325.52,413.86 L327.94,413.85 L330.37,413.83 L332.80,413.81 L335.22,413.80 L337.65,413.78 L340.07,413.76 L342.50,413.74" fill="none" stroke="url(#g18)" stroke-width="1.0"/>
<path d="M5.30,415.82 L7.73,415.85 L10.15,415.88 L12.58,415.91 L15.00,415.94 L17.43,415.97 L19.86,415.99 L22.28,416.02 L24.71,416.05 L27.13,416.07 L29.56,416.10 L31.98,416.13 L34.41,416.15 L36.84,416.18 L39.26,416.20 L41.69,416.23 L44.11,416.25 L46.54,416.27 L48.97,416.29 L51.39,416.31 L53.82,416.33 L56.24,416.35 L58.67,416.37 L61.10,416.39 L63.52,416.41 L65.95,416.43 L68.37,416.44 L70.80,416.46 L73.23,416.48 L75.65,416.50 L78.08,416.52 L80.50,416.53 L82.93,416.55 L85.35,416.57 L87.78,416.59 L90.21,416.61 L92.63,416.63 L95.06,416.64 L97.48,416.66 L99.91,416.68 L102.34,416.70 L104.76,416.71 L107.19,416.73 L109.61,416.75 L112.04,416.76 L114.47,416.78 L116.89,416.79 L119.32,416.81 L121.74,416.82 L124.17,416.84 L126.59,416.85 L129.02,416.86 L131.45,416.88 L133.87,416.89 L136.30,416.90 L138.72,416.91 L141.15,416.92 L143.58,416.93 L146.00,416.94 L148.43,416.95 L150.85,416.96 L153.28,416.97 L155.71,416.97 L158.13,416.98 L160.56,416.98 L162.98,416.99 L165.41,416.99 L167.84,416.99 L170.26,417.00 L172.69,417.00 L175.11,417.00 L177.54,417.00 L179.96,417.00 L182.39,417.00 L184.82,416.99 L187.24,416.99 L189.67,416.99 L192.09,416.99 L194.52,416.99 L196.95,416.99 L199.37,416.99 L201.80,416.99 L204.22,416.99 L206.65,416.98 L209.08,416.98 L211.50,416.98 L213.93,416.98 L216.35,416.98 L218.78,416.97 L221.21,416.97 L223.63,416.97 L226.06,416.97 L228.48,416.96 L230.91,416.96 L233.33,416.96 L235.76,416.96 L238.19,416.95 L240.61,416.95 L243.04,416.95 L245.46,416.94 L247.89,416.94 L250.32,416.94 L252.74,416.93 L255.17,416.93 L257.59,416.93 L260.02,416.92 L262.45,416.92 L264.87,416.91 L267.30,416.91 L269.72,416.91 L272.15,416.90 L274.57,416.90 L277.00,416.89 L279.43,416.89 L281.85,416.88 L284.28,416.88 L286.70,416.87 L289.13,416.87 L291.56,416.86 L293.98,416.86 L296.41,416.85 L298.83,416.84 L301.26,416.83 L303.69,416.81 L306.11,416.80 L308.54,416.78 L310.96,416.76 L313.39,416.75 L315.82,416.73 L318.24,416.71 L320.67,416.69 L323.09,416.66 L325.52,416.64 L327.94,416.62 L330.37,416.60 L332.80,416.57 L335.22,416.55 L337.65,416.53 L340.07,416.50 L342.50,416.48" fill="none" stroke="url(#g19)" stroke-width="1.0"/>
<path d="M5.30,409.30 L7.73,409.31 L10.15,409.33 L12.58,409.34 L15.00,409.35 L17.43,409.36 L19.86,409.36 L22.28,409.37 L24.71,409.38 L27.13,409.38 L29.56,409.39 L31.98,409.39 L34.41,409.39 L36.84,409.40 L39.26,409.40 L41.69,409.40 L44.11,409.40 L46.54,409.40 L48.97,409.40 L51.39,409.40 L53.82,409.40 L56.24,409.40 L58.67,409.39 L61.10,409.37 L63.52,409.34 L65.95,409.31 L68.37,409.26 L70.80,409.22 L73.23,409.16 L75.65,409.11 L78.08,409.05 L80.50,408.99 L82.93,408.90 L85.35,408.77 L87.78,408.62 L90.21,408.44 L92.63,408.25 L95.06,408.04 L97.48,407.83 L99.91,407.62 L102.34,407.42 L104.76,407.23 L107.19,407.06 L109.61,406.92 L112.04,406.79 L114.47,406.67 L116.89,406.54 L119.32,406.41 L121.74,406.28 L124.17,406.15 L126.59,406.02 L129.02,405.90 L131.45,405.78 L133.87,405.65 L136.30,405.54 L138.72,405.42 L141.15,405.32 L143.58,405.21 L146.00,405.11 L148.43,405.02 L150.85,404.94 L153.28,404.86 L155.71,404.80 L158.13,404.74 L160.56,404.69 L162.98,404.65 L165.41,404.62 L167.84,404.60 L170.26,404.60 L172.69,404.61 L175.11,404.62 L177.54,404.65 L179.96,404.69 L182.39,404.73 L184.82,404.79 L187.24,404.85 L189.67,404.92 L192.09,404.99 L194.52,405.07 L196.95,405.16 L199.37,405.25 L201.80,405.35 L204.22,405.45 L206.65,405.55 L209.08,405.66 L211.50,405.77 L213.93,405.88 L216.35,405.99 L218.78,406.10 L221.21,406.21 L223.63,406.32 L226.06,406.43 L228.48,406.53 L230.91,406.64 L233.33,406.75 L235.76,406.88 L238.19,407.01 L240.61,407.15 L243.04,407.30 L245.46,407.45 L247.89,407.60 L250.32,407.75 L252.74,407.90 L255.17,408.05 L257.59,408.20 L260.02,408.34 L262.45,408.47 L264.87,408.59 L267.30,408.72 L269.72,408.85 L272.15,408.98 L274.57,409.12 L277.00,409.24 L279.43,409.36 L281.85,409.47 L284.28,409.57 L286.70,409.64 L289.13,409.69 L291.56,409.72 L293.98,409.74 L296.41,409.77 L298.83,409.79 L301.26,409.81 L303.69,409.83 L306.11,409.85 L308.54,409.87 L310.96,409.89 L313.39,409.91 L315.82,409.92 L318.24,409.93 L320.67,409.95 L323.09,409.96 L325.52,409.97 L327.94,409.98 L330.37,409.98 L332.80,409.99 L335.22,409.99 L337.65,410.00 L340.07,410.00 L342.50,410.00 L342.50,413.60 L340.07,413.60 L337.65,413.60 L335.22,413.59 L332.80,413.59 L330.37,413.58 L327.94,413.58 L325.52,413.57 L323.09,413.56 L320.67,413.55 L318.24,413.53 L315.82,413.52 L313.39,413.51 L310.96,413.49 L308.54,413.47 L306.11,413.45 L303.69,413.43 L301.26,413.41 L298.83,413.39 L296.41,413.37 L293.98,413.34 L291.56,413.32 L289.13,413.29 L286.70,413.24 L284.28,413.18 L281.85,413.10 L279.43,413.01 L277.00,412.91 L274.57,412.81 L272.15,412.70 L269.72,412.60 L267.30,412.50 L264.87,412.42 L262.45,412.33 L260.02,412.23 L257.59,412.13 L255.17,412.02 L252.74,411.91 L250.32,411.80 L247.89,411.69 L245.46,411.57 L243.04,411.46 L240.61,411.34 L238.19,411.23 L235.76,411.13 L233.33,411.03 L230.91,410.93 L228.48,410.84 L226.06,410.75 L223.63,410.66 L221.21,410.57 L218.78,410.48 L216.35,410.38 L213.93,410.29 L211.50,410.20 L209.08,410.10 L206.65,410.01 L204.22,409.93 L201.80,409.84 L199.37,409.76 L196.95,409.68 L194.52,409.61 L192.09,409.54 L189.67,409.47 L187.24,409.41 L184.82,409.36 L182.39,409.31 L179.96,409.28 L177.54,409.24 L175.11,409.22 L172.69,409.21 L170.26,409.20 L167.84,409.20 L165.41,409.22 L162.98,409.24 L160.56,409.27 L158.13,409.31 L155.71,409.36 L153.28,409.42 L150.85,409.48 L148.43,409.55 L146.00,409.62 L143.58,409.70 L141.15,409.79 L138.72,409.88 L136.30,409.97 L133.87,410.07 L131.45,410.17 L129.02,410.27 L126.59,410.37 L124.17,410.48 L121.74,410.58 L119.32,410.69 L116.89,410.80 L114.47,410.91 L112.04,411.01 L109.61,411.12 L107.19,411.24 L104.76,411.38 L102.34,411.54 L99.91,411.71 L97.48,411.89 L95.06,412.07 L92.63,412.24 L90.21,412.40 L87.78,412.54 L85.35,412.66 L82.93,412.75 L80.50,412.80 L78.08,412.83 L75.65,412.86 L73.23,412.88 L70.80,412.91 L68.37,412.93 L65.95,412.95 L63.52,412.97 L61.10,412.98 L58.67,412.99 L56.24,413.00 L53.82,413.00 L51.39,413.00 L48.97,413.00 L46.54,413.00 L44.11,413.00 L41.69,413.00 L39.26,413.00 L36.84,413.00 L34.41,412.99 L31.98,412.99 L29.56,412.99 L27.13,412.98 L24.71,412.98 L22.28,412.97 L19.86,412.96 L17.43,412.96 L15.00,412.95 L12.58,412.94 L10.15,412.93 L7.73,412.91 L5.30,412.90Z" fill="url(#g20)"/>
<path d="M5.30,410.20 L7.73,410.21 L10.15,410.23 L12.58,410.24 L15.00,410.25 L17.43,410.26 L19.86,410.26 L22.28,410.27 L24.71,410.28 L27.13,410.28 L29.56,410.29 L31.98,410.29 L34.41,410.29 L36.84,410.30 L39.26,410.30 L41.69,410.30 L44.11,410.30 L46.54,410.30 L48.97,410.30 L51.39,410.30 L53.82,410.30 L56.24,410.30 L58.67,410.29 L61.10,410.27 L63.52,410.25 L65.95,410.22 L68.37,410.18 L70.80,410.14 L73.23,410.09 L75.65,410.05 L78.08,409.99 L80.50,409.94 L82.93,409.86 L85.35,409.74 L87.78,409.60 L90.21,409.43 L92.63,409.24 L95.06,409.05 L97.48,408.85 L99.91,408.65 L102.34,408.45 L104.76,408.27 L107.19,408.11 L109.61,407.97 L112.04,407.85 L114.47,407.73 L116.89,407.60 L119.32,407.48 L121.74,407.36 L124.17,407.23 L126.59,407.11 L129.02,406.99 L131.45,406.87 L133.87,406.76 L136.30,406.64 L138.72,406.54 L141.15,406.43 L143.58,406.33 L146.00,406.24 L148.43,406.15 L150.85,406.07 L153.28,406.00 L155.71,405.94 L158.13,405.88 L160.56,405.83 L162.98,405.80 L165.41,405.77 L167.84,405.75 L170.26,405.75 L172.69,405.76 L175.11,405.77 L177.54,405.80 L179.96,405.83 L182.39,405.88 L184.82,405.93 L187.24,405.99 L189.67,406.06 L192.09,406.13 L194.52,406.21 L196.95,406.29 L199.37,406.38 L201.80,406.47 L204.22,406.57 L206.65,406.67 L209.08,406.77 L211.50,406.87 L213.93,406.98 L216.35,407.08 L218.78,407.19 L221.21,407.30 L223.63,407.40 L226.06,407.51 L228.48,407.61 L230.91,407.71 L233.33,407.82 L235.76,407.94 L238.19,408.07 L240.61,408.20 L243.04,408.34 L245.46,408.48 L247.89,408.62 L250.32,408.76 L252.74,408.90 L255.17,409.04 L257.59,409.18 L260.02,409.31 L262.45,409.43 L264.87,409.55 L267.30,409.66 L269.72,409.79 L272.15,409.91 L274.57,410.04 L277.00,410.16 L279.43,410.28 L281.85,410.38 L284.28,410.47 L286.70,410.54 L289.13,410.59 L291.56,410.62 L293.98,410.64 L296.41,410.67 L298.83,410.69 L301.26,410.71 L303.69,410.73 L306.11,410.75 L308.54,410.77 L310.96,410.79 L313.39,410.81 L315.82,410.82 L318.24,410.83 L320.67,410.85 L323.09,410.86 L325.52,410.87 L327.94,410.88 L330.37,410.88 L332.80,410.89 L335.22,410.89 L337.65,410.90 L340.07,410.90 L342.50,410.90" fill="none" stroke="url(#g21)" stroke-width="1.05"/>
<path d="M5.30,412.54 L7.73,412.55 L10.15,412.57 L12.58,412.58 L15.00,412.59 L17.43,412.60 L19.86,412.60 L22.28,412.61 L24.71,412.62 L27.13,412.62 L29.56,412.63 L31.98,412.63 L34.41,412.63 L36.84,412.64 L39.26,412.64 L41.69,412.64 L44.11,412.64 L46.54,412.64 L48.97,412.64 L51.39,412.64 L53.82,412.64 L56.24,412.64 L58.67,412.63 L61.10,412.62 L63.52,412.61 L65.95,412.59 L68.37,412.57 L70.80,412.54 L73.23,412.51 L75.65,412.48 L78.08,412.45 L80.50,412.42 L82.93,412.36 L85.35,412.27 L87.78,412.14 L90.21,412.00 L92.63,411.84 L95.06,411.66 L97.48,411.48 L99.91,411.30 L102.34,411.13 L104.76,410.97 L107.19,410.82 L109.61,410.70 L112.04,410.59 L114.47,410.48 L116.89,410.37 L119.32,410.26 L121.74,410.15 L124.17,410.05 L126.59,409.94 L129.02,409.83 L131.45,409.73 L133.87,409.62 L136.30,409.53 L138.72,409.43 L141.15,409.34 L143.58,409.25 L146.00,409.17 L148.43,409.09 L150.85,409.02 L153.28,408.96 L155.71,408.90 L158.13,408.86 L160.56,408.81 L162.98,408.78 L165.41,408.76 L167.84,408.74 L170.26,408.74 L172.69,408.75 L175.11,408.76 L177.54,408.78 L179.96,408.82 L182.39,408.86 L184.82,408.90 L187.24,408.96 L189.67,409.02 L192.09,409.08 L194.52,409.15 L196.95,409.23 L199.37,409.31 L201.80,409.39 L204.22,409.48 L206.65,409.57 L209.08,409.66 L211.50,409.75 L213.93,409.85 L216.35,409.94 L218.78,410.04 L221.21,410.13 L223.63,410.23 L226.06,410.32 L228.48,410.41 L230.91,410.50 L233.33,410.60 L235.76,410.70 L238.19,410.81 L240.61,410.92 L243.04,411.04 L245.46,411.16 L247.89,411.28 L250.32,411.40 L252.74,411.51 L255.17,411.63 L257.59,411.74 L260.02,411.84 L262.45,411.94 L264.87,412.03 L267.30,412.13 L269.72,412.23 L272.15,412.33 L274.57,412.44 L277.00,412.55 L279.43,412.65 L281.85,412.74 L284.28,412.82 L286.70,412.88 L289.13,412.93 L291.56,412.96 L293.98,412.98 L296.41,413.01 L298.83,413.03 L301.26,413.05 L303.69,413.07 L306.11,413.09 L308.54,413.11 L310.96,413.13 L313.39,413.15 L315.82,413.16 L318.24,413.17 L320.67,413.19 L323.09,413.20 L325.52,413.21 L327.94,413.22 L330.37,413.22 L332.80,413.23 L335.22,413.23 L337.65,413.24 L340.07,413.24 L342.50,413.24" fill="none" stroke="url(#g22)" stroke-width="1.0"/>
<path d="M5.30,411.28 L7.73,411.29 L10.15,411.31 L12.58,411.32 L15.00,411.33 L17.43,411.34 L19.86,411.34 L22.28,411.35 L24.71,411.36 L27.13,411.36 L29.56,411.37 L31.98,411.37 L34.41,411.37 L36.84,411.38 L39.26,411.38 L41.69,411.38 L44.11,411.38 L46.54,411.38 L48.97,411.38 L51.39,411.38 L53.82,411.38 L56.24,411.38 L58.67,411.37 L61.10,411.36 L63.52,411.34 L65.95,411.31 L68.37,411.28 L70.80,411.25 L73.23,411.21 L75.65,411.17 L78.08,411.13 L80.50,411.08 L82.93,411.01 L85.35,410.91 L87.78,410.77 L90.21,410.62 L92.63,410.44 L95.06,410.26 L97.48,410.06 L99.91,409.87 L102.34,409.69 L104.76,409.52 L107.19,409.36 L109.61,409.23 L112.04,409.11 L114.47,409.00 L116.89,408.88 L119.32,408.77 L121.74,408.65 L124.17,408.53 L126.59,408.42 L129.02,408.30 L131.45,408.19 L133.87,408.08 L136.30,407.97 L138.72,407.87 L141.15,407.77 L143.58,407.68 L146.00,407.59 L148.43,407.51 L150.85,407.44 L153.28,407.37 L155.71,407.31 L158.13,407.25 L160.56,407.21 L162.98,407.17 L165.41,407.15 L167.84,407.13 L170.26,407.13 L172.69,407.14 L175.11,407.15 L177.54,407.18 L179.96,407.21 L182.39,407.25 L184.82,407.30 L187.24,407.36 L189.67,407.42 L192.09,407.49 L194.52,407.57 L196.95,407.65 L199.37,407.73 L201.80,407.82 L204.22,407.91 L206.65,408.01 L209.08,408.10 L211.50,408.20 L213.93,408.30 L216.35,408.40 L218.78,408.51 L221.21,408.61 L223.63,408.71 L226.06,408.81 L228.48,408.90 L230.91,409.00 L233.33,409.10 L235.76,409.22 L238.19,409.33 L240.61,409.46 L243.04,409.58 L245.46,409.71 L247.89,409.85 L250.32,409.98 L252.74,410.11 L255.17,410.24 L257.59,410.36 L260.02,410.48 L262.45,410.59 L264.87,410.70 L267.30,410.80 L269.72,410.91 L272.15,411.03 L274.57,411.15 L277.00,411.26 L279.43,411.37 L281.85,411.47 L284.28,411.55 L286.70,411.62 L289.13,411.67 L291.56,411.70 L293.98,411.72 L296.41,411.75 L298.83,411.77 L301.26,411.79 L303.69,411.81 L306.11,411.83 L308.54,411.85 L310.96,411.87 L313.39,411.89 L315.82,411.90 L318.24,411.91 L320.67,411.93 L323.09,411.94 L325.52,411.95 L327.94,411.96 L330.37,411.96 L332.80,411.97 L335.22,411.97 L337.65,411.98 L340.07,411.98 L342.50,411.98" fill="none" stroke="url(#g23)" stroke-width="1.0"/>
<path d="M5.30,405.70 L7.73,405.73 L10.15,405.76 L12.58,405.78 L15.00,405.80 L17.43,405.82 L19.86,405.84 L22.28,405.85 L24.71,405.86 L27.13,405.87 L29.56,405.88 L31.98,405.89 L34.41,405.89 L36.84,405.89 L39.26,405.90 L41.69,405.90 L44.11,405.90 L46.54,405.90 L48.97,405.90 L51.39,405.90 L53.82,405.87 L56.24,405.81 L58.67,405.73 L61.10,405.64 L63.52,405.52 L65.95,405.39 L68.37,405.25 L70.80,405.10 L73.23,404.95 L75.65,404.79 L78.08,404.63 L80.50,404.47 L82.93,404.28 L85.35,404.06 L87.78,403.81 L90.21,403.54 L92.63,403.26 L95.06,402.96 L97.48,402.66 L99.91,402.35 L102.34,402.05 L104.76,401.76 L107.19,401.49 L109.61,401.24 L112.04,401.00 L114.47,400.76 L116.89,400.52 L119.32,400.28 L121.74,400.05 L124.17,399.82 L126.59,399.60 L129.02,399.39 L131.45,399.19 L133.87,399.00 L136.30,398.83 L138.72,398.67 L141.15,398.54 L143.58,398.40 L146.00,398.26 L148.43,398.12 L150.85,397.99 L153.28,397.86 L155.71,397.74 L158.13,397.63 L160.56,397.53 L162.98,397.45 L165.41,397.38 L167.84,397.33 L170.26,397.31 L172.69,397.30 L175.11,397.32 L177.54,397.36 L179.96,397.42 L182.39,397.49 L184.82,397.58 L187.24,397.68 L189.67,397.79 L192.09,397.91 L194.52,398.03 L196.95,398.15 L199.37,398.27 L201.80,398.39 L204.22,398.54 L206.65,398.70 L209.08,398.88 L211.50,399.07 L213.93,399.27 L216.35,399.48 L218.78,399.70 L221.21,399.92 L223.63,400.14 L226.06,400.36 L228.48,400.57 L230.91,400.78 L233.33,400.99 L235.76,401.20 L238.19,401.42 L240.61,401.64 L243.04,401.86 L245.46,402.09 L247.89,402.31 L250.32,402.53 L252.74,402.75 L255.17,402.97 L257.59,403.19 L260.02,403.40 L262.45,403.62 L264.87,403.86 L267.30,404.10 L269.72,404.35 L272.15,404.60 L274.57,404.84 L277.00,405.07 L279.43,405.29 L281.85,405.48 L284.28,405.65 L286.70,405.78 L289.13,405.88 L291.56,405.94 L293.98,406.00 L296.41,406.05 L298.83,406.10 L301.26,406.15 L303.69,406.20 L306.11,406.25 L308.54,406.29 L310.96,406.33 L313.39,406.37 L315.82,406.41 L318.24,406.44 L320.67,406.47 L323.09,406.50 L325.52,406.52 L327.94,406.54 L330.37,406.56 L332.80,406.57 L335.22,406.58 L337.65,406.59 L340.07,406.60 L342.50,406.60 L342.50,410.20 L340.07,410.20 L337.65,410.19 L335.22,410.18 L332.80,410.17 L330.37,410.16 L327.94,410.14 L325.52,410.12 L323.09,410.10 L320.67,410.07 L318.24,410.04 L315.82,410.01 L313.39,409.97 L310.96,409.93 L308.54,409.89 L306.11,409.85 L303.69,409.80 L301.26,409.75 L298.83,409.70 L296.41,409.65 L293.98,409.60 L291.56,409.54 L289.13,409.48 L286.70,409.38 L284.28,409.25 L281.85,409.09 L279.43,408.90 L277.00,408.70 L274.57,408.48 L272.15,408.25 L269.72,408.01 L267.30,407.77 L264.87,407.55 L262.45,407.33 L260.02,407.13 L257.59,406.93 L255.17,406.74 L252.74,406.54 L250.32,406.34 L247.89,406.13 L245.46,405.93 L243.04,405.73 L240.61,405.53 L238.19,405.34 L235.76,405.14 L233.33,404.95 L230.91,404.77 L228.48,404.59 L226.06,404.41 L223.63,404.23 L221.21,404.06 L218.78,403.89 L216.35,403.73 L213.93,403.58 L211.50,403.45 L209.08,403.32 L206.65,403.21 L204.22,403.12 L201.80,403.04 L199.37,402.99 L196.95,402.93 L194.52,402.88 L192.09,402.82 L189.67,402.76 L187.24,402.71 L184.82,402.65 L182.39,402.61 L179.96,402.56 L177.54,402.53 L175.11,402.51 L172.69,402.50 L170.26,402.50 L167.84,402.53 L165.41,402.57 L162.98,402.62 L160.56,402.68 L158.13,402.76 L155.71,402.85 L153.28,402.94 L150.85,403.04 L148.43,403.14 L146.00,403.24 L143.58,403.34 L141.15,403.44 L138.72,403.54 L136.30,403.65 L133.87,403.78 L131.45,403.93 L129.02,404.09 L126.59,404.26 L124.17,404.44 L121.74,404.63 L119.32,404.82 L116.89,405.02 L114.47,405.22 L112.04,405.43 L109.61,405.63 L107.19,405.85 L104.76,406.09 L102.34,406.34 L99.91,406.60 L97.48,406.86 L95.06,407.13 L92.63,407.38 L90.21,407.62 L87.78,407.85 L85.35,408.06 L82.93,408.23 L80.50,408.38 L78.08,408.50 L75.65,408.62 L73.23,408.74 L70.80,408.86 L68.37,408.98 L65.95,409.09 L63.52,409.20 L61.10,409.29 L58.67,409.36 L56.24,409.43 L53.82,409.47 L51.39,409.50 L48.97,409.50 L46.54,409.50 L44.11,409.50 L41.69,409.50 L39.26,409.50 L36.84,409.49 L34.41,409.49 L31.98,409.49 L29.56,409.48 L27.13,409.47 L24.71,409.46 L22.28,409.45 L19.86,409.44 L17.43,409.42 L15.00,409.40 L12.58,409.38 L10.15,409.36 L7.73,409.33 L5.30,409.30Z" fill="url(#g24)"/>
<path d="M5.30,407.21 L7.73,407.24 L10.15,407.27 L12.58,407.29 L15.00,407.32 L17.43,407.33 L19.86,407.35 L22.28,407.36 L24.71,407.38 L27.13,407.39 L29.56,407.39 L31.98,407.40 L34.41,407.40 L36.84,407.41 L39.26,407.41 L41.69,407.41 L44.11,407.41 L46.54,407.41 L48.97,407.41 L51.39,407.41 L53.82,407.38 L56.24,407.33 L58.67,407.26 L61.10,407.17 L63.52,407.07 L65.95,406.95 L68.37,406.82 L70.80,406.68 L73.23,406.54 L75.65,406.40 L78.08,406.25 L80.50,406.11 L82.93,405.94 L85.35,405.74 L87.78,405.51 L90.21,405.26 L92.63,404.99 L95.06,404.71 L97.48,404.42 L99.91,404.14 L102.34,403.85 L104.76,403.58 L107.19,403.32 L109.61,403.08 L112.04,402.86 L114.47,402.64 L116.89,402.41 L119.32,402.19 L121.74,401.97 L124.17,401.76 L126.59,401.56 L129.02,401.36 L131.45,401.18 L133.87,401.01 L136.30,400.85 L138.72,400.72 L141.15,400.60 L143.58,400.47 L146.00,400.35 L148.43,400.23 L150.85,400.11 L153.28,399.99 L155.71,399.89 L158.13,399.79 L160.56,399.70 L162.98,399.62 L165.41,399.56 L167.84,399.52 L170.26,399.49 L172.69,399.48 L175.11,399.50 L177.54,399.53 L179.96,399.58 L182.39,399.64 L184.82,399.71 L187.24,399.79 L189.67,399.88 L192.09,399.97 L194.52,400.06 L196.95,400.16 L199.37,400.25 L201.80,400.35 L204.22,400.46 L206.65,400.60 L209.08,400.75 L211.50,400.91 L213.93,401.08 L216.35,401.27 L218.78,401.46 L221.21,401.66 L223.63,401.86 L226.06,402.06 L228.48,402.26 L230.91,402.45 L233.33,402.65 L235.76,402.86 L238.19,403.07 L240.61,403.28 L243.04,403.49 L245.46,403.70 L247.89,403.92 L250.32,404.13 L252.74,404.34 L255.17,404.55 L257.59,404.76 L260.02,404.97 L262.45,405.18 L264.87,405.41 L267.30,405.64 L269.72,405.89 L272.15,406.13 L274.57,406.37 L277.00,406.59 L279.43,406.81 L281.85,407.00 L284.28,407.16 L286.70,407.29 L289.13,407.39 L291.56,407.45 L293.98,407.51 L296.41,407.56 L298.83,407.62 L301.26,407.67 L303.69,407.71 L306.11,407.76 L308.54,407.80 L310.96,407.84 L313.39,407.88 L315.82,407.92 L318.24,407.95 L320.67,407.98 L323.09,408.01 L325.52,408.03 L327.94,408.05 L330.37,408.07 L332.80,408.09 L335.22,408.10 L337.65,408.11 L340.07,408.11 L342.50,408.11" fill="none" stroke="url(#g25)" stroke-width="1.2"/>
<path d="M5.30,409.12 L7.73,409.15 L10.15,409.18 L12.58,409.20 L15.00,409.22 L17.43,409.24 L19.86,409.26 L22.28,409.27 L24.71,409.28 L27.13,409.29 L29.56,409.30 L31.98,409.31 L34.41,409.31 L36.84,409.31 L39.26,409.32 L41.69,409.32 L44.11,409.32 L46.54,409.32 L48.97,409.32 L51.39,409.32 L53.82,409.29 L56.24,409.25 L58.67,409.18 L61.10,409.10 L63.52,409.01 L65.95,408.91 L68.37,408.80 L70.80,408.68 L73.23,408.55 L75.65,408.43 L78.08,408.30 L80.50,408.18 L82.93,408.03 L85.35,407.86 L87.78,407.65 L90.21,407.42 L92.63,407.18 L95.06,406.92 L97.48,406.65 L99.91,406.39 L102.34,406.13 L104.76,405.87 L107.19,405.63 L109.61,405.41 L112.04,405.21 L114.47,405.00 L116.89,404.80 L119.32,404.60 L121.74,404.40 L124.17,404.21 L126.59,404.03 L129.02,403.85 L131.45,403.69 L133.87,403.54 L136.30,403.41 L138.72,403.29 L141.15,403.19 L143.58,403.09 L146.00,402.99 L148.43,402.89 L150.85,402.78 L153.28,402.68 L155.71,402.59 L158.13,402.50 L160.56,402.43 L162.98,402.36 L165.41,402.31 L167.84,402.27 L170.26,402.24 L172.69,402.24 L175.11,402.25 L177.54,402.27 L179.96,402.31 L182.39,402.35 L184.82,402.40 L187.24,402.45 L189.67,402.51 L192.09,402.57 L194.52,402.64 L196.95,402.70 L199.37,402.75 L201.80,402.81 L204.22,402.89 L206.65,402.99 L209.08,403.10 L211.50,403.23 L213.93,403.37 L216.35,403.52 L218.78,403.68 L221.21,403.85 L223.63,404.03 L226.06,404.20 L228.48,404.39 L230.91,404.57 L233.33,404.76 L235.76,404.95 L238.19,405.14 L240.61,405.34 L243.04,405.54 L245.46,405.74 L247.89,405.94 L250.32,406.15 L252.74,406.35 L255.17,406.55 L257.59,406.75 L260.02,406.94 L262.45,407.14 L264.87,407.36 L267.30,407.59 L269.72,407.83 L272.15,408.06 L274.57,408.29 L277.00,408.52 L279.43,408.72 L281.85,408.91 L284.28,409.07 L286.70,409.20 L289.13,409.30 L291.56,409.36 L293.98,409.42 L296.41,409.47 L298.83,409.52 L301.26,409.57 L303.69,409.62 L306.11,409.67 L308.54,409.71 L310.96,409.75 L313.39,409.79 L315.82,409.83 L318.24,409.86 L320.67,409.89 L323.09,409.92 L325.52,409.94 L327.94,409.96 L330.37,409.98 L332.80,409.99 L335.22,410.00 L337.65,410.01 L340.07,410.02 L342.50,410.02" fill="none" stroke="url(#g26)" stroke-width="0.9"/>
<path d="M5.30,406.24 L7.73,406.27 L10.15,406.30 L12.58,406.32 L15.00,406.34 L17.43,406.36 L19.86,406.38 L22.28,406.39 L24.71,406.40 L27.13,406.41 L29.56,406.42 L31.98,406.43 L34.41,406.43 L36.84,406.43 L39.26,406.44 L41.69,406.44 L44.11,406.44 L46.54,406.44 L48.97,406.44 L51.39,406.44 L53.82,406.41 L56.24,406.35 L58.67,406.28 L61.10,406.18 L63.52,406.07 L65.95,405.95 L68.37,405.81 L70.80,405.67 L73.23,405.52 L75.65,405.36 L78.08,405.21 L80.50,405.05 L82.93,404.87 L85.35,404.66 L87.78,404.42 L90.21,404.16 L92.63,403.88 L95.06,403.59 L97.48,403.29 L99.91,402.99 L102.34,402.70 L104.76,402.41 L107.19,402.14 L109.61,401.90 L112.04,401.67 L114.47,401.43 L116.89,401.20 L119.32,400.97 L121.74,400.74 L124.17,400.51 L126.59,400.30 L129.02,400.09 L131.45,399.90 L133.87,399.72 L136.30,399.55 L138.72,399.40 L141.15,399.27 L143.58,399.14 L146.00,399.01 L148.43,398.88 L150.85,398.75 L153.28,398.62 L155.71,398.51 L158.13,398.40 L160.56,398.31 L162.98,398.23 L165.41,398.16 L167.84,398.11 L170.26,398.09 L172.69,398.08 L175.11,398.10 L177.54,398.13 L179.96,398.19 L182.39,398.26 L184.82,398.34 L187.24,398.43 L189.67,398.54 L192.09,398.64 L194.52,398.75 L196.95,398.87 L199.37,398.98 L201.80,399.09 L204.22,399.23 L206.65,399.38 L209.08,399.55 L211.50,399.73 L213.93,399.92 L216.35,400.12 L218.78,400.33 L221.21,400.54 L223.63,400.75 L226.06,400.96 L228.48,401.17 L230.91,401.38 L233.33,401.58 L235.76,401.79 L238.19,402.01 L240.61,402.22 L243.04,402.44 L245.46,402.66 L247.89,402.88 L250.32,403.10 L252.74,403.32 L255.17,403.54 L257.59,403.75 L260.02,403.96 L262.45,404.18 L264.87,404.41 L267.30,404.65 L269.72,404.90 L272.15,405.15 L274.57,405.39 L277.00,405.62 L279.43,405.83 L281.85,406.02 L284.28,406.19 L286.70,406.32 L289.13,406.42 L291.56,406.48 L293.98,406.54 L296.41,406.59 L298.83,406.64 L301.26,406.69 L303.69,406.74 L306.11,406.79 L308.54,406.83 L310.96,406.87 L313.39,406.91 L315.82,406.95 L318.24,406.98 L320.67,407.01 L323.09,407.04 L325.52,407.06 L327.94,407.08 L330.37,407.10 L332.80,407.11 L335.22,407.12 L337.65,407.13 L340.07,407.14 L342.50,407.14" fill="none" stroke="url(#g27)" stroke-width="1.1"/>
<path d="M46.75,382.68 A35.6,35.6 0 0 1 9.58,405.90" fill="none" stroke="#999" stroke-width="0.7"/>
<path d="M337.73,406.21 A34.7,34.7 0 0 1 301.93,384.70" fill="none" stroke="#999" stroke-width="0.7"/>
<circle cx="7.5" cy="396.5" r="7.1" fill="#fff" stroke="#000" stroke-width="1.3"/><text x="7.5" y="400.6" text-anchor="middle" font-size="12" style="stroke-width:0.45px">4</text>
<rect x="113.80" y="448.9" width="11.33" height="9.5" fill="#2a2a6a"/>
<rect x="125.08" y="448.9" width="11.33" height="9.5" fill="#1f5080"/>
<rect x="136.37" y="448.9" width="11.33" height="9.5" fill="#246b7b"/>
<rect x="147.65" y="448.9" width="11.33" height="9.5" fill="#2a7a78"/>
<rect x="158.93" y="448.9" width="11.33" height="9.5" fill="#4a8a5a"/>
<rect x="170.22" y="448.9" width="11.33" height="9.5" fill="#5a8a48"/>
<rect x="181.50" y="448.9" width="11.33" height="9.5" fill="#6b7d2e"/>
<rect x="192.78" y="448.9" width="11.33" height="9.5" fill="#c0902a"/>
<rect x="204.07" y="448.9" width="11.33" height="9.5" fill="#f5a070"/>
<rect x="215.35" y="448.9" width="11.33" height="9.5" fill="#f5a0a0"/>
<rect x="226.63" y="448.9" width="11.33" height="9.5" fill="#f8b8c0"/>
<rect x="237.92" y="448.9" width="11.33" height="9.5" fill="#e8c8e8"/>
<line x1="113.80" y1="445.2" x2="113.80" y2="458.4" stroke="#222" stroke-width="0.9"/>
<line x1="125.08" y1="445.2" x2="125.08" y2="458.4" stroke="#222" stroke-width="0.9"/>
<line x1="136.37" y1="445.2" x2="136.37" y2="458.4" stroke="#222" stroke-width="0.9"/>
<line x1="147.65" y1="445.2" x2="147.65" y2="458.4" stroke="#222" stroke-width="0.9"/>
<line x1="158.93" y1="445.2" x2="158.93" y2="458.4" stroke="#222" stroke-width="0.9"/>
<line x1="170.22" y1="445.2" x2="170.22" y2="458.4" stroke="#222" stroke-width="0.9"/>
<line x1="181.50" y1="445.2" x2="181.50" y2="458.4" stroke="#222" stroke-width="0.9"/>
<line x1="192.78" y1="445.2" x2="192.78" y2="458.4" stroke="#222" stroke-width="0.9"/>
<line x1="204.07" y1="445.2" x2="204.07" y2="458.4" stroke="#222" stroke-width="0.9"/>
<line x1="215.35" y1="445.2" x2="215.35" y2="458.4" stroke="#222" stroke-width="0.9"/>
<line x1="226.63" y1="445.2" x2="226.63" y2="458.4" stroke="#222" stroke-width="0.9"/>
<line x1="237.92" y1="445.2" x2="237.92" y2="458.4" stroke="#222" stroke-width="0.9"/>
<line x1="249.20" y1="445.2" x2="249.20" y2="458.4" stroke="#222" stroke-width="0.9"/>
<g font-size="12" fill="#111"><text x="114.6" y="441" text-anchor="middle">0.65</text><text x="183" y="441" text-anchor="middle">-0.35</text><text x="252.4" y="441" text-anchor="middle">-1.35</text></g>
<text x="60.6" y="454.7" font-size="12" fill="#111">U</text><text x="68.8" y="457" font-size="8.5" fill="#111">z</text><text x="74.2" y="455" font-size="12.4" fill="#111">[mm]</text>
<g stroke="#111" stroke-width="1.05" fill="none"><path d="M283.5,456.3 V439.5 M283.5,456.3 H299"/></g>
<path d="M283.5,434.6 L280.7,441 L286.3,441 Z M304.4,456.3 L297.8,453.4 L297.8,459.2 Z" fill="#111"/>
<text x="285.8" y="437.5" font-size="10.5" fill="#111">z</text><text x="303.4" y="454.8" font-size="10.5" fill="#111">x</text>
</svg>
</body></html>
